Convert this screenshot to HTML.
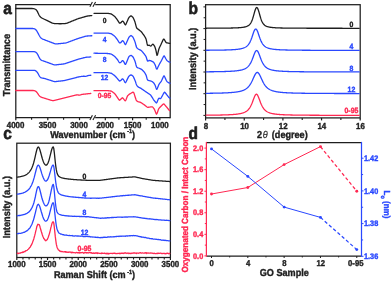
<!DOCTYPE html>
<html><head><meta charset="utf-8"><style>
html,body{margin:0;padding:0;background:#fff;width:392px;height:282px;overflow:hidden;}
svg{display:block;filter:blur(0.15px);}
text{font-family:"Liberation Sans",sans-serif;text-rendering:geometricPrecision;}
</style></head><body>
<svg width="392" height="282" viewBox="0 0 392 282">
<rect width="392" height="282" fill="#fff"/>
<line x1="15.8" y1="3.9" x2="15.8" y2="118.3" stroke="#1e1e1e" stroke-width="1.25" />
<line x1="170.2" y1="3.9" x2="170.2" y2="118.3" stroke="#1e1e1e" stroke-width="1.25" />
<line x1="15.8" y1="4.5" x2="90.8" y2="4.5" stroke="#1e1e1e" stroke-width="1.25" />
<line x1="95.2" y1="4.5" x2="170.2" y2="4.5" stroke="#1e1e1e" stroke-width="1.25" />
<line x1="15.8" y1="117.7" x2="90.8" y2="117.7" stroke="#1e1e1e" stroke-width="1.25" />
<line x1="95.2" y1="117.7" x2="170.2" y2="117.7" stroke="#1e1e1e" stroke-width="1.25" />
<line x1="89.9" y1="6.8" x2="92.4" y2="2.0" stroke="#1e1e1e" stroke-width="1.1" />
<line x1="92.9" y1="6.8" x2="95.6" y2="2.0" stroke="#1e1e1e" stroke-width="1.1" />
<line x1="89.9" y1="120.0" x2="92.4" y2="115.2" stroke="#1e1e1e" stroke-width="1.1" />
<line x1="92.9" y1="120.0" x2="95.6" y2="115.2" stroke="#1e1e1e" stroke-width="1.1" />
<line x1="15.8" y1="117.7" x2="15.8" y2="120.2" stroke="#1e1e1e" stroke-width="1.2" />
<line x1="47.8" y1="117.7" x2="47.8" y2="120.2" stroke="#1e1e1e" stroke-width="1.2" />
<line x1="79.5" y1="117.7" x2="79.5" y2="120.2" stroke="#1e1e1e" stroke-width="1.2" />
<line x1="105.3" y1="117.7" x2="105.3" y2="120.2" stroke="#1e1e1e" stroke-width="1.2" />
<line x1="132.6" y1="117.7" x2="132.6" y2="120.2" stroke="#1e1e1e" stroke-width="1.2" />
<line x1="159.8" y1="117.7" x2="159.8" y2="120.2" stroke="#1e1e1e" stroke-width="1.2" />
<line x1="31.6" y1="117.7" x2="31.6" y2="119.7" stroke="#1e1e1e" stroke-width="1.1" />
<line x1="63.6" y1="117.7" x2="63.6" y2="119.7" stroke="#1e1e1e" stroke-width="1.1" />
<line x1="118.9" y1="117.7" x2="118.9" y2="119.7" stroke="#1e1e1e" stroke-width="1.1" />
<line x1="146.2" y1="117.7" x2="146.2" y2="119.7" stroke="#1e1e1e" stroke-width="1.1" />
<text transform="translate(15.6,128.0) scale(1,1.1)" font-size="7.9" fill="#1e1e1e" stroke="#1e1e1e" stroke-width="0.36" text-anchor="middle" font-family="Liberation Sans, sans-serif" font-weight="bold" >4000</text>
<text transform="translate(47.5,128.0) scale(1,1.1)" font-size="7.9" fill="#1e1e1e" stroke="#1e1e1e" stroke-width="0.36" text-anchor="middle" font-family="Liberation Sans, sans-serif" font-weight="bold" >3500</text>
<text transform="translate(79.0,128.0) scale(1,1.1)" font-size="7.9" fill="#1e1e1e" stroke="#1e1e1e" stroke-width="0.36" text-anchor="middle" font-family="Liberation Sans, sans-serif" font-weight="bold" >3000</text>
<text transform="translate(105.2,128.0) scale(1,1.1)" font-size="7.9" fill="#1e1e1e" stroke="#1e1e1e" stroke-width="0.36" text-anchor="middle" font-family="Liberation Sans, sans-serif" font-weight="bold" >2000</text>
<text transform="translate(132.6,128.0) scale(1,1.1)" font-size="7.9" fill="#1e1e1e" stroke="#1e1e1e" stroke-width="0.36" text-anchor="middle" font-family="Liberation Sans, sans-serif" font-weight="bold" >1500</text>
<text transform="translate(159.9,128.0) scale(1,1.1)" font-size="7.9" fill="#1e1e1e" stroke="#1e1e1e" stroke-width="0.36" text-anchor="middle" font-family="Liberation Sans, sans-serif" font-weight="bold" >1000</text>
<text transform="translate(3.2,14.3) scale(1,1.1)" font-size="15.5" fill="#1e1e1e" stroke="#1e1e1e" stroke-width="0.55" text-anchor="start" font-family="Liberation Sans, sans-serif" font-weight="bold" >a</text>
<text transform="translate(50.2,137.8) scale(1,1.1)" font-size="9.1" fill="#1e1e1e" stroke="#1e1e1e" stroke-width="0.36" font-family="Liberation Sans, sans-serif" font-weight="bold">Wavenumber (cm<tspan font-size="5.5" dy="-4.2"> -1</tspan><tspan dy="4.2">)</tspan></text>
<text transform="translate(9.6,96.2) rotate(-90) scale(1,1.1)" font-size="9.2" fill="#1e1e1e" stroke="#1e1e1e" stroke-width="0.36" font-family="Liberation Sans, sans-serif" font-weight="bold">Transmittance</text>
<path d="M15.80,8.50 L16.30,8.50 L16.80,8.50 L17.30,8.50 L17.80,8.50 L18.30,8.50 L18.80,8.50 L19.30,8.50 L19.80,8.50 L20.30,8.50 L20.80,8.50 L21.30,8.50 L21.80,8.50 L22.30,8.50 L22.80,8.50 L23.30,8.50 L23.80,8.50 L24.30,8.50 L24.80,8.50 L25.30,8.50 L25.80,8.50 L26.30,8.50 L26.80,8.50 L27.30,8.50 L27.80,8.50 L28.30,8.50 L28.80,8.50 L29.30,8.50 L29.80,8.50 L30.30,8.50 L30.80,8.50 L31.30,8.50 L31.80,8.51 L32.30,8.52 L32.80,8.55 L33.30,8.60 L33.80,8.70 L34.30,8.83 L34.80,9.01 L35.30,9.23 L35.80,9.52 L36.30,9.95 L36.80,10.57 L37.30,11.40 L37.80,12.41 L38.30,13.51 L38.80,14.58 L39.30,15.50 L39.80,16.25 L40.30,16.81 L40.80,17.25 L41.30,17.61 L41.80,17.92 L42.30,18.21 L42.80,18.47 L43.30,18.73 L43.80,18.98 L44.30,19.22 L44.80,19.47 L45.30,19.71 L45.80,19.96 L46.30,20.20 L46.80,20.44 L47.30,20.68 L47.80,20.92 L48.30,21.16 L48.80,21.40 L49.30,21.64 L49.80,21.88 L50.30,22.12 L50.80,22.35 L51.30,22.59 L51.80,22.82 L52.30,23.03 L52.80,23.21 L53.30,23.35 L53.80,23.45 L54.30,23.52 L54.80,23.56 L55.30,23.59 L55.80,23.61 L56.30,23.64 L56.80,23.66 L57.30,23.68 L57.80,23.70 L58.30,23.72 L58.80,23.74 L59.30,23.76 L59.80,23.76 L60.30,23.76 L60.80,23.75 L61.30,23.73 L61.80,23.71 L62.30,23.69 L62.80,23.66 L63.30,23.64 L63.80,23.62 L64.30,23.59 L64.80,23.56 L65.30,23.51 L65.80,23.44 L66.30,23.33 L66.80,23.19 L67.30,23.03 L67.80,22.84 L68.30,22.64 L68.80,22.44 L69.30,22.23 L69.80,22.03 L70.30,21.82 L70.80,21.62 L71.30,21.42 L71.80,21.21 L72.30,21.01 L72.80,20.80 L73.30,20.60 L73.80,20.39 L74.30,20.19 L74.80,19.99 L75.30,19.78 L75.80,19.58 L76.30,19.38 L76.80,19.18 L77.30,18.99 L77.80,18.81 L78.30,18.65 L78.80,18.49 L79.30,18.34 L79.80,18.19 L80.30,18.05 L80.80,17.91 L81.30,17.76 L81.80,17.62 L82.30,17.47 L82.80,17.33 L83.30,17.18 L83.80,17.04 L84.30,16.89 L84.80,16.75 L85.30,16.61 L85.80,16.47 L86.30,16.33 L86.80,16.20 L87.30,16.09 L87.80,15.99 L88.30,15.92 L88.80,15.85 L89.30,15.79 L89.80,15.73 L90.30,15.67 L90.80,15.62 L91.30,15.58 L91.80,15.54" fill="none" stroke="#1e1e1e" stroke-width="1.3" stroke-linejoin="round" stroke-linecap="round" />
<path d="M94.00,13.30 L94.50,13.30 L95.00,13.30 L95.50,13.30 L96.00,13.30 L96.50,13.30 L97.00,13.30 L97.50,13.30 L98.00,13.30 L98.50,13.30 L99.00,13.30 L99.50,13.30 L100.00,13.30 L100.50,13.30 L101.00,13.30 L101.50,13.30 L102.00,13.30 L102.50,13.30 L103.00,13.30 L103.50,13.30 L104.00,13.30 L104.50,13.30 L105.00,13.30 L105.50,13.30 L106.00,13.30 L106.50,13.30 L107.00,13.30 L107.50,13.30 L108.00,13.32 L108.50,13.40 L109.00,13.51 L109.50,13.61 L110.00,13.71 L110.50,13.81 L111.00,13.92 L111.50,14.11 L112.00,14.44 L112.50,14.81 L113.00,15.18 L113.50,15.54 L114.00,15.91 L114.50,16.29 L115.00,16.79 L115.50,17.42 L116.00,18.07 L116.50,18.72 L117.00,19.38 L117.50,20.09 L118.00,20.87 L118.50,21.68 L119.00,22.48 L119.50,23.09 L120.00,23.14 L120.50,22.97 L121.00,22.61 L121.50,22.03 L122.00,21.43 L122.50,21.05 L123.00,21.31 L123.50,21.84 L124.00,22.62 L124.50,23.60 L125.00,24.54 L125.50,24.85 L126.00,24.05 L126.50,22.94 L127.00,21.80 L127.50,20.65 L128.00,19.49 L128.50,18.35 L129.00,17.44 L129.50,16.92 L130.00,16.51 L130.50,16.11 L131.00,15.88 L131.50,16.11 L132.00,16.51 L132.50,16.92 L133.00,17.45 L133.50,18.39 L134.00,19.59 L134.50,20.80 L135.00,22.09 L135.50,23.81 L136.00,25.87 L136.50,27.61 L137.00,28.36 L137.50,28.74 L138.00,29.11 L138.50,29.48 L139.00,29.88 L139.50,30.28 L140.00,30.68 L140.50,31.08 L141.00,31.49 L141.50,31.99 L142.00,32.64 L142.50,33.34 L143.00,34.04 L143.50,34.74 L144.00,35.44 L144.50,36.20 L145.00,37.03 L145.50,37.90 L146.00,38.92 L146.50,40.84 L147.00,43.42 L147.50,45.21 L148.00,45.50 L148.50,45.35 L149.00,45.22 L149.50,45.32 L150.00,45.70 L150.50,46.04 L151.00,45.93 L151.50,45.43 L152.00,44.88 L152.50,44.37 L153.00,44.22 L153.50,44.71 L154.00,45.37 L154.50,46.11 L155.00,47.24 L155.50,48.73 L156.00,50.66 L156.50,53.23 L157.00,55.26 L157.50,54.71 L158.00,52.65 L158.50,50.49 L159.00,48.69 L159.50,47.51 L160.00,46.50 L160.50,45.49 L161.00,44.44 L161.50,43.34 L162.00,42.24 L162.50,41.14 L163.00,40.04 L163.50,39.12 L164.00,39.12 L164.50,39.90 L165.00,40.78 L165.50,41.65 L166.00,42.40 L166.50,42.76 L167.00,42.88 L167.50,42.98 L168.00,43.08 L168.50,43.18 L169.00,43.26 L169.50,43.30 L170.00,43.30" fill="none" stroke="#1e1e1e" stroke-width="1.3" stroke-linejoin="round" stroke-linecap="round" />
<path d="M15.80,28.50 L16.30,28.50 L16.80,28.50 L17.30,28.50 L17.80,28.50 L18.30,28.50 L18.80,28.50 L19.30,28.50 L19.80,28.50 L20.30,28.50 L20.80,28.50 L21.30,28.50 L21.80,28.50 L22.30,28.50 L22.80,28.50 L23.30,28.50 L23.80,28.50 L24.30,28.50 L24.80,28.50 L25.30,28.50 L25.80,28.50 L26.30,28.50 L26.80,28.50 L27.30,28.50 L27.80,28.50 L28.30,28.50 L28.80,28.50 L29.30,28.50 L29.80,28.50 L30.30,28.50 L30.80,28.50 L31.30,28.50 L31.80,28.50 L32.30,28.50 L32.80,28.52 L33.30,28.55 L33.80,28.62 L34.30,28.76 L34.80,28.97 L35.30,29.29 L35.80,29.72 L36.30,30.28 L36.80,30.99 L37.30,31.82 L37.80,32.74 L38.30,33.68 L38.80,34.61 L39.30,35.49 L39.80,36.32 L40.30,37.05 L40.80,37.68 L41.30,38.17 L41.80,38.55 L42.30,38.83 L42.80,39.07 L43.30,39.29 L43.80,39.50 L44.30,39.71 L44.80,39.91 L45.30,40.11 L45.80,40.30 L46.30,40.49 L46.80,40.69 L47.30,40.88 L47.80,41.07 L48.30,41.26 L48.80,41.45 L49.30,41.64 L49.80,41.83 L50.30,42.02 L50.80,42.21 L51.30,42.40 L51.80,42.59 L52.30,42.78 L52.80,42.97 L53.30,43.16 L53.80,43.34 L54.30,43.52 L54.80,43.67 L55.30,43.78 L55.80,43.85 L56.30,43.87 L56.80,43.86 L57.30,43.82 L57.80,43.78 L58.30,43.73 L58.80,43.69 L59.30,43.64 L59.80,43.59 L60.30,43.54 L60.80,43.50 L61.30,43.45 L61.80,43.40 L62.30,43.35 L62.80,43.30 L63.30,43.26 L63.80,43.21 L64.30,43.16 L64.80,43.10 L65.30,43.03 L65.80,42.93 L66.30,42.81 L66.80,42.67 L67.30,42.50 L67.80,42.32 L68.30,42.14 L68.80,41.95 L69.30,41.76 L69.80,41.58 L70.30,41.39 L70.80,41.20 L71.30,41.01 L71.80,40.82 L72.30,40.64 L72.80,40.45 L73.30,40.26 L73.80,40.08 L74.30,39.89 L74.80,39.70 L75.30,39.51 L75.80,39.33 L76.30,39.14 L76.80,38.95 L77.30,38.77 L77.80,38.60 L78.30,38.43 L78.80,38.27 L79.30,38.11 L79.80,37.96 L80.30,37.81 L80.80,37.66 L81.30,37.51 L81.80,37.36 L82.30,37.21 L82.80,37.06 L83.30,36.91 L83.80,36.76 L84.30,36.61 L84.80,36.47 L85.30,36.34 L85.80,36.23 L86.30,36.14 L86.80,36.07 L87.30,36.02 L87.80,35.98 L88.30,35.94 L88.80,35.91 L89.30,35.87 L89.80,35.84 L90.30,35.81 L90.80,35.77 L91.30,35.75 L91.80,35.73" fill="none" stroke="#2a48ff" stroke-width="1.3" stroke-linejoin="round" stroke-linecap="round" />
<path d="M94.00,33.10 L94.50,33.10 L95.00,33.10 L95.50,33.10 L96.00,33.10 L96.50,33.10 L97.00,33.10 L97.50,33.10 L98.00,33.10 L98.50,33.10 L99.00,33.10 L99.50,33.10 L100.00,33.10 L100.50,33.10 L101.00,33.10 L101.50,33.10 L102.00,33.10 L102.50,33.10 L103.00,33.10 L103.50,33.10 L104.00,33.10 L104.50,33.10 L105.00,33.10 L105.50,33.10 L106.00,33.10 L106.50,33.10 L107.00,33.10 L107.50,33.10 L108.00,33.12 L108.50,33.20 L109.00,33.31 L109.50,33.41 L110.00,33.51 L110.50,33.61 L111.00,33.72 L111.50,33.91 L112.00,34.24 L112.50,34.61 L113.00,34.98 L113.50,35.34 L114.00,35.71 L114.50,36.09 L115.00,36.59 L115.50,37.22 L116.00,37.87 L116.50,38.52 L117.00,39.18 L117.50,39.89 L118.00,40.67 L118.50,41.48 L119.00,42.28 L119.50,42.89 L120.00,42.94 L120.50,42.77 L121.00,42.38 L121.50,41.75 L122.00,41.09 L122.50,40.66 L123.00,40.91 L123.50,41.45 L124.00,42.26 L124.50,43.29 L125.00,44.29 L125.50,44.64 L126.00,43.85 L126.50,42.74 L127.00,41.60 L127.50,40.45 L128.00,39.29 L128.50,38.15 L129.00,37.22 L129.50,36.66 L130.00,36.20 L130.50,35.76 L131.00,35.50 L131.50,35.76 L132.00,36.20 L132.50,36.66 L133.00,37.23 L133.50,38.19 L134.00,39.39 L134.50,40.60 L135.00,41.89 L135.50,43.56 L136.00,45.55 L136.50,47.23 L137.00,47.98 L137.50,48.39 L138.00,48.78 L138.50,49.13 L139.00,49.40 L139.50,49.65 L140.00,49.90 L140.50,50.15 L141.00,50.41 L141.50,50.77 L142.00,51.32 L142.50,51.92 L143.00,52.52 L143.50,53.12 L144.00,53.72 L144.50,54.35 L145.00,55.03 L145.50,55.73 L146.00,56.54 L146.50,57.96 L147.00,59.84 L147.50,61.08 L148.00,61.11 L148.50,60.81 L149.00,60.51 L149.50,60.41 L150.00,60.53 L150.50,60.70 L151.00,60.88 L151.50,61.10 L152.00,61.35 L152.50,61.60 L153.00,61.85 L153.50,62.23 L154.00,62.94 L154.50,63.77 L155.00,64.64 L155.50,65.86 L156.00,67.50 L156.50,68.96 L157.00,69.12 L157.50,68.15 L158.00,67.06 L158.50,65.98 L159.00,64.96 L159.50,64.05 L160.00,63.18 L160.50,62.30 L161.00,61.42 L161.50,60.48 L162.00,59.47 L162.50,58.46 L163.00,57.44 L163.50,56.43 L164.00,55.83 L164.50,56.32 L165.00,57.21 L165.50,58.12 L166.00,59.03 L166.50,59.89 L167.00,60.50 L167.50,60.90 L168.00,61.27 L168.50,61.65 L169.00,61.97 L169.50,62.09 L170.00,62.10" fill="none" stroke="#2a48ff" stroke-width="1.3" stroke-linejoin="round" stroke-linecap="round" />
<path d="M15.80,51.60 L16.30,51.60 L16.80,51.60 L17.30,51.60 L17.80,51.60 L18.30,51.60 L18.80,51.60 L19.30,51.60 L19.80,51.60 L20.30,51.60 L20.80,51.60 L21.30,51.60 L21.80,51.60 L22.30,51.60 L22.80,51.60 L23.30,51.60 L23.80,51.60 L24.30,51.60 L24.80,51.60 L25.30,51.60 L25.80,51.60 L26.30,51.60 L26.80,51.60 L27.30,51.60 L27.80,51.60 L28.30,51.60 L28.80,51.60 L29.30,51.60 L29.80,51.60 L30.30,51.60 L30.80,51.60 L31.30,51.60 L31.80,51.60 L32.30,51.60 L32.80,51.60 L33.30,51.61 L33.80,51.63 L34.30,51.68 L34.80,51.78 L35.30,51.95 L35.80,52.23 L36.30,52.62 L36.80,53.14 L37.30,53.83 L37.80,54.68 L38.30,55.66 L38.80,56.69 L39.30,57.69 L39.80,58.56 L40.30,59.26 L40.80,59.76 L41.30,60.11 L41.80,60.36 L42.30,60.56 L42.80,60.74 L43.30,60.91 L43.80,61.09 L44.30,61.27 L44.80,61.44 L45.30,61.62 L45.80,61.81 L46.30,61.99 L46.80,62.17 L47.30,62.36 L47.80,62.54 L48.30,62.72 L48.80,62.91 L49.30,63.09 L49.80,63.27 L50.30,63.46 L50.80,63.64 L51.30,63.82 L51.80,64.01 L52.30,64.19 L52.80,64.37 L53.30,64.53 L53.80,64.68 L54.30,64.78 L54.80,64.84 L55.30,64.85 L55.80,64.83 L56.30,64.79 L56.80,64.74 L57.30,64.69 L57.80,64.63 L58.30,64.57 L58.80,64.52 L59.30,64.46 L59.80,64.41 L60.30,64.35 L60.80,64.29 L61.30,64.24 L61.80,64.18 L62.30,64.12 L62.80,64.06 L63.30,63.99 L63.80,63.91 L64.30,63.81 L64.80,63.69 L65.30,63.55 L65.80,63.39 L66.30,63.23 L66.80,63.07 L67.30,62.90 L67.80,62.73 L68.30,62.57 L68.80,62.40 L69.30,62.23 L69.80,62.07 L70.30,61.90 L70.80,61.73 L71.30,61.57 L71.80,61.40 L72.30,61.23 L72.80,61.07 L73.30,60.90 L73.80,60.73 L74.30,60.57 L74.80,60.40 L75.30,60.23 L75.80,60.07 L76.30,59.90 L76.80,59.73 L77.30,59.57 L77.80,59.40 L78.30,59.24 L78.80,59.09 L79.30,58.94 L79.80,58.80 L80.30,58.66 L80.80,58.53 L81.30,58.40 L81.80,58.27 L82.30,58.14 L82.80,58.01 L83.30,57.88 L83.80,57.75 L84.30,57.62 L84.80,57.51 L85.30,57.41 L85.80,57.33 L86.30,57.27 L86.80,57.22 L87.30,57.18 L87.80,57.14 L88.30,57.10 L88.80,57.07 L89.30,57.03 L89.80,57.00 L90.30,56.97 L90.80,56.95" fill="none" stroke="#2a48ff" stroke-width="1.3" stroke-linejoin="round" stroke-linecap="round" />
<path d="M94.00,53.20 L94.50,53.21 L95.00,53.22 L95.50,53.23 L96.00,53.24 L96.50,53.25 L97.00,53.26 L97.50,53.27 L98.00,53.29 L98.50,53.30 L99.00,53.31 L99.50,53.32 L100.00,53.33 L100.50,53.34 L101.00,53.35 L101.50,53.36 L102.00,53.37 L102.50,53.38 L103.00,53.39 L103.50,53.40 L104.00,53.41 L104.50,53.43 L105.00,53.44 L105.50,53.45 L106.00,53.46 L106.50,53.47 L107.00,53.48 L107.50,53.49 L108.00,53.52 L108.50,53.59 L109.00,53.68 L109.50,53.76 L110.00,53.85 L110.50,53.94 L111.00,54.04 L111.50,54.21 L112.00,54.52 L112.50,54.88 L113.00,55.23 L113.50,55.58 L114.00,55.94 L114.50,56.30 L115.00,56.75 L115.50,57.31 L116.00,57.88 L116.50,58.46 L117.00,59.04 L117.50,59.70 L118.00,60.47 L118.50,61.28 L119.00,62.08 L119.50,62.69 L120.00,62.74 L120.50,62.57 L121.00,62.20 L121.50,61.59 L122.00,60.96 L122.50,60.56 L123.00,60.81 L123.50,61.35 L124.00,62.14 L124.50,63.15 L125.00,64.12 L125.50,64.43 L126.00,63.61 L126.50,62.45 L127.00,61.25 L127.50,60.00 L128.00,58.75 L128.50,57.53 L129.00,56.59 L129.50,56.13 L130.00,55.82 L130.50,55.51 L131.00,55.36 L131.50,55.61 L132.00,56.01 L132.50,56.42 L133.00,56.93 L133.50,57.81 L134.00,58.91 L134.50,60.03 L135.00,61.24 L135.50,62.92 L136.00,64.97 L136.50,66.68 L137.00,67.32 L137.50,67.57 L138.00,67.81 L138.50,68.03 L139.00,68.24 L139.50,68.44 L140.00,68.64 L140.50,68.84 L141.00,69.05 L141.50,69.35 L142.00,69.80 L142.50,70.30 L143.00,70.80 L143.50,71.30 L144.00,71.81 L144.50,72.43 L145.00,73.23 L145.50,74.10 L146.00,75.06 L146.50,76.55 L147.00,78.45 L147.50,79.84 L148.00,80.28 L148.50,80.45 L149.00,80.60 L149.50,80.73 L150.00,80.82 L150.50,80.90 L151.00,81.02 L151.50,81.26 L152.00,81.56 L152.50,81.88 L153.00,82.19 L153.50,82.62 L154.00,83.34 L154.50,84.17 L155.00,85.04 L155.50,86.26 L156.00,87.90 L156.50,89.34 L157.00,89.34 L157.50,88.12 L158.00,86.75 L158.50,85.41 L159.00,84.29 L159.50,83.55 L160.00,82.93 L160.50,82.30 L161.00,81.65 L161.50,80.81 L162.00,79.74 L162.50,78.63 L163.00,77.52 L163.50,76.43 L164.00,75.80 L164.50,76.43 L165.00,77.52 L165.50,78.63 L166.00,79.74 L166.50,80.79 L167.00,81.49 L167.50,81.90 L168.00,82.28 L168.50,82.65 L169.00,82.98 L169.50,83.14 L170.00,83.19" fill="none" stroke="#2a48ff" stroke-width="1.3" stroke-linejoin="round" stroke-linecap="round" />
<path d="M15.80,70.30 L16.30,70.30 L16.80,70.30 L17.30,70.30 L17.80,70.30 L18.30,70.30 L18.80,70.30 L19.30,70.30 L19.80,70.30 L20.30,70.30 L20.80,70.30 L21.30,70.30 L21.80,70.30 L22.30,70.30 L22.80,70.30 L23.30,70.30 L23.80,70.30 L24.30,70.30 L24.80,70.30 L25.30,70.30 L25.80,70.30 L26.30,70.30 L26.80,70.30 L27.30,70.30 L27.80,70.30 L28.30,70.30 L28.80,70.30 L29.30,70.30 L29.80,70.30 L30.30,70.30 L30.80,70.30 L31.30,70.30 L31.80,70.30 L32.30,70.30 L32.80,70.30 L33.30,70.31 L33.80,70.33 L34.30,70.38 L34.80,70.48 L35.30,70.65 L35.80,70.92 L36.30,71.29 L36.80,71.79 L37.30,72.42 L37.80,73.18 L38.30,74.05 L38.80,74.96 L39.30,75.83 L39.80,76.58 L40.30,77.16 L40.80,77.55 L41.30,77.81 L41.80,77.96 L42.30,78.08 L42.80,78.17 L43.30,78.26 L43.80,78.36 L44.30,78.47 L44.80,78.59 L45.30,78.72 L45.80,78.87 L46.30,79.03 L46.80,79.19 L47.30,79.35 L47.80,79.51 L48.30,79.68 L48.80,79.84 L49.30,80.00 L49.80,80.17 L50.30,80.33 L50.80,80.49 L51.30,80.66 L51.80,80.82 L52.30,80.98 L52.80,81.14 L53.30,81.28 L53.80,81.41 L54.30,81.50 L54.80,81.55 L55.30,81.56 L55.80,81.53 L56.30,81.49 L56.80,81.44 L57.30,81.39 L57.80,81.33 L58.30,81.27 L58.80,81.22 L59.30,81.16 L59.80,81.11 L60.30,81.05 L60.80,80.99 L61.30,80.94 L61.80,80.88 L62.30,80.82 L62.80,80.76 L63.30,80.70 L63.80,80.63 L64.30,80.54 L64.80,80.44 L65.30,80.33 L65.80,80.21 L66.30,80.08 L66.80,79.95 L67.30,79.82 L67.80,79.70 L68.30,79.57 L68.80,79.44 L69.30,79.31 L69.80,79.18 L70.30,79.05 L70.80,78.92 L71.30,78.79 L71.80,78.66 L72.30,78.53 L72.80,78.40 L73.30,78.27 L73.80,78.14 L74.30,78.01 L74.80,77.89 L75.30,77.76 L75.80,77.63 L76.30,77.50 L76.80,77.37 L77.30,77.24 L77.80,77.12 L78.30,77.00 L78.80,76.89 L79.30,76.79 L79.80,76.70 L80.30,76.62 L80.80,76.55 L81.30,76.48 L81.80,76.41 L82.30,76.34 L82.80,76.29 L83.30,76.25 L83.80,76.24 L84.30,76.26 L84.80,76.30 L85.30,76.33 L85.80,76.31 L86.30,76.23 L86.80,76.09 L87.30,75.91 L87.80,75.74 L88.30,75.59 L88.80,75.48 L89.30,75.40 L89.80,75.34 L90.30,75.30 L90.80,75.26" fill="none" stroke="#2a48ff" stroke-width="1.3" stroke-linejoin="round" stroke-linecap="round" />
<path d="M94.00,72.70 L94.50,72.70 L95.00,72.70 L95.50,72.70 L96.00,72.70 L96.50,72.70 L97.00,72.70 L97.50,72.70 L98.00,72.70 L98.50,72.70 L99.00,72.70 L99.50,72.70 L100.00,72.70 L100.50,72.70 L101.00,72.70 L101.50,72.70 L102.00,72.70 L102.50,72.70 L103.00,72.70 L103.50,72.70 L104.00,72.70 L104.50,72.70 L105.00,72.70 L105.50,72.70 L106.00,72.70 L106.50,72.70 L107.00,72.70 L107.50,72.70 L108.00,72.72 L108.50,72.79 L109.00,72.88 L109.50,72.96 L110.00,73.05 L110.50,73.14 L111.00,73.24 L111.50,73.41 L112.00,73.72 L112.50,74.08 L113.00,74.43 L113.50,74.78 L114.00,75.14 L114.50,75.50 L115.00,75.94 L115.50,76.48 L116.00,77.04 L116.50,77.60 L117.00,78.16 L117.50,78.73 L118.00,79.34 L118.50,79.96 L119.00,80.57 L119.50,81.00 L120.00,80.92 L120.50,80.65 L121.00,80.25 L121.50,79.72 L122.00,79.17 L122.50,78.85 L123.00,79.15 L123.50,79.72 L124.00,80.52 L124.50,81.50 L125.00,82.44 L125.50,82.76 L126.00,82.00 L126.50,80.94 L127.00,79.90 L127.50,78.90 L128.00,77.90 L128.50,76.92 L129.00,76.15 L129.50,75.73 L130.00,75.42 L130.50,75.11 L131.00,74.94 L131.50,75.11 L132.00,75.42 L132.50,75.73 L133.00,76.16 L133.50,77.02 L134.00,78.11 L134.50,79.23 L135.00,80.40 L135.50,81.79 L136.00,83.38 L136.50,84.78 L137.00,85.61 L137.50,86.23 L138.00,86.82 L138.50,87.21 L139.00,87.45 L139.50,87.67 L140.00,87.89 L140.50,88.12 L141.00,88.41 L141.50,88.75 L142.00,89.10 L142.50,89.45 L143.00,89.80 L143.50,90.14 L144.00,90.49 L144.50,90.84 L145.00,91.18 L145.50,91.53 L146.00,91.88 L146.50,92.22 L147.00,92.56 L147.50,92.89 L148.00,93.21 L148.50,93.54 L149.00,93.86 L149.50,94.19 L150.00,94.51 L150.50,94.91 L151.00,95.56 L151.50,96.35 L152.00,97.16 L152.50,97.96 L153.00,98.77 L153.50,99.56 L154.00,100.25 L154.50,100.87 L155.00,101.47 L155.50,102.07 L156.00,102.67 L156.50,102.98 L157.00,102.32 L157.50,101.09 L158.00,99.80 L158.50,98.65 L159.00,98.21 L159.50,98.38 L160.00,98.61 L160.50,98.67 L161.00,98.14 L161.50,97.26 L162.00,96.35 L162.50,95.44 L163.00,94.53 L163.50,93.62 L164.00,92.72 L164.50,92.15 L165.00,92.46 L165.50,93.09 L166.00,93.74 L166.50,94.38 L167.00,95.03 L167.50,95.67 L168.00,96.32 L168.50,96.97 L169.00,97.59 L169.50,98.01 L170.00,98.17" fill="none" stroke="#2a48ff" stroke-width="1.3" stroke-linejoin="round" stroke-linecap="round" />
<path d="M15.80,90.50 L16.30,90.50 L16.80,90.50 L17.30,90.50 L17.80,90.50 L18.30,90.50 L18.80,90.50 L19.30,90.50 L19.80,90.50 L20.30,90.50 L20.80,90.50 L21.30,90.50 L21.80,90.50 L22.30,90.50 L22.80,90.50 L23.30,90.50 L23.80,90.50 L24.30,90.50 L24.80,90.50 L25.30,90.50 L25.80,90.50 L26.30,90.50 L26.80,90.50 L27.30,90.50 L27.80,90.50 L28.30,90.50 L28.80,90.50 L29.30,90.50 L29.80,90.50 L30.30,90.50 L30.80,90.50 L31.30,90.50 L31.80,90.50 L32.30,90.50 L32.80,90.50 L33.30,90.52 L33.80,90.55 L34.30,90.63 L34.80,90.78 L35.30,91.02 L35.80,91.35 L36.30,91.78 L36.80,92.31 L37.30,92.93 L37.80,93.62 L38.30,94.34 L38.80,95.04 L39.30,95.68 L39.80,96.21 L40.30,96.62 L40.80,96.93 L41.30,97.16 L41.80,97.34 L42.30,97.51 L42.80,97.68 L43.30,97.84 L43.80,98.00 L44.30,98.16 L44.80,98.32 L45.30,98.48 L45.80,98.63 L46.30,98.79 L46.80,98.94 L47.30,99.09 L47.80,99.25 L48.30,99.40 L48.80,99.55 L49.30,99.70 L49.80,99.85 L50.30,100.01 L50.80,100.16 L51.30,100.30 L51.80,100.43 L52.30,100.52 L52.80,100.57 L53.30,100.57 L53.80,100.51 L54.30,100.42 L54.80,100.31 L55.30,100.19 L55.80,100.06 L56.30,99.93 L56.80,99.81 L57.30,99.68 L57.80,99.55 L58.30,99.42 L58.80,99.29 L59.30,99.17 L59.80,99.04 L60.30,98.91 L60.80,98.78 L61.30,98.66 L61.80,98.53 L62.30,98.40 L62.80,98.28 L63.30,98.15 L63.80,98.03 L64.30,97.91 L64.80,97.78 L65.30,97.66 L65.80,97.54 L66.30,97.41 L66.80,97.29 L67.30,97.17 L67.80,97.04 L68.30,96.92 L68.80,96.80 L69.30,96.67 L69.80,96.55 L70.30,96.43 L70.80,96.30 L71.30,96.18 L71.80,96.06 L72.30,95.93 L72.80,95.81 L73.30,95.69 L73.80,95.56 L74.30,95.44 L74.80,95.32 L75.30,95.20 L75.80,95.08 L76.30,94.99 L76.80,94.93 L77.30,94.91 L77.80,94.93 L78.30,94.99 L78.80,95.05 L79.30,95.07 L79.80,95.03 L80.30,94.92 L80.80,94.76 L81.30,94.61 L81.80,94.48 L82.30,94.39 L82.80,94.31 L83.30,94.25 L83.80,94.20 L84.30,94.14 L84.80,94.09 L85.30,94.04 L85.80,93.98 L86.30,93.93 L86.80,93.87 L87.30,93.82 L87.80,93.77 L88.30,93.71 L88.80,93.66 L89.30,93.61 L89.80,93.56 L90.30,93.51 L90.80,93.47" fill="none" stroke="#ff2852" stroke-width="1.3" stroke-linejoin="round" stroke-linecap="round" />
<path d="M94.00,90.70 L94.50,90.70 L95.00,90.70 L95.50,90.70 L96.00,90.70 L96.50,90.70 L97.00,90.70 L97.50,90.70 L98.00,90.70 L98.50,90.70 L99.00,90.70 L99.50,90.70 L100.00,90.70 L100.50,90.70 L101.00,90.70 L101.50,90.70 L102.00,90.70 L102.50,90.70 L103.00,90.70 L103.50,90.70 L104.00,90.70 L104.50,90.70 L105.00,90.70 L105.50,90.70 L106.00,90.70 L106.50,90.70 L107.00,90.70 L107.50,90.70 L108.00,90.71 L108.50,90.76 L109.00,90.82 L109.50,90.88 L110.00,90.94 L110.50,90.99 L111.00,91.06 L111.50,91.23 L112.00,91.56 L112.50,91.94 L113.00,92.32 L113.50,92.71 L114.00,93.09 L114.50,93.49 L115.00,94.02 L115.50,94.72 L116.00,95.45 L116.50,96.18 L117.00,96.91 L117.50,97.64 L118.00,98.36 L118.50,99.07 L119.00,99.78 L119.50,100.23 L120.00,99.99 L120.50,99.50 L121.00,99.00 L121.50,98.50 L122.00,98.01 L122.50,97.76 L123.00,98.16 L123.50,98.81 L124.00,99.47 L124.50,100.12 L125.00,100.72 L125.50,100.73 L126.00,99.72 L126.50,98.42 L127.00,97.12 L127.50,96.00 L128.00,95.38 L128.50,94.95 L129.00,94.53 L129.50,94.13 L130.00,93.82 L130.50,93.53 L131.00,93.25 L131.50,92.97 L132.00,92.68 L132.50,92.42 L133.00,92.23 L133.50,92.31 L134.00,93.32 L134.50,94.87 L135.00,96.45 L135.50,97.97 L136.00,99.43 L136.50,100.63 L137.00,101.13 L137.50,101.37 L138.00,101.60 L138.50,101.78 L139.00,101.92 L139.50,102.06 L140.00,102.20 L140.50,102.36 L141.00,102.61 L141.50,102.94 L142.00,103.28 L142.50,103.62 L143.00,103.95 L143.50,104.29 L144.00,104.63 L144.50,104.99 L145.00,105.38 L145.50,105.79 L146.00,106.19 L146.50,106.59 L147.00,106.99 L147.50,107.29 L148.00,107.33 L148.50,107.26 L149.00,107.19 L149.50,107.12 L150.00,107.05 L150.50,106.98 L151.00,106.91 L151.50,106.84 L152.00,106.78 L152.50,106.86 L153.00,107.36 L153.50,108.02 L154.00,108.69 L154.50,109.56 L155.00,110.76 L155.50,112.05 L156.00,113.33 L156.50,114.20 L157.00,113.62 L157.50,112.20 L158.00,110.70 L158.50,109.29 L159.00,108.35 L159.50,107.80 L160.00,107.30 L160.50,106.80 L161.00,106.30 L161.50,105.80 L162.00,105.30 L162.50,104.80 L163.00,104.30 L163.50,103.90 L164.00,104.01 L164.50,104.55 L165.00,105.15 L165.50,105.74 L166.00,106.34 L166.50,106.93 L167.00,107.53 L167.50,108.13 L168.00,108.74 L168.50,109.36 L169.00,109.98 L169.50,110.57" fill="none" stroke="#ff2852" stroke-width="1.3" stroke-linejoin="round" stroke-linecap="round" />
<text transform="translate(104.5,22.8) scale(1,1.1)" font-size="6.7" fill="#1e1e1e" stroke="#1e1e1e" stroke-width="0.36" text-anchor="middle" font-family="Liberation Sans, sans-serif" font-weight="bold" >0</text>
<text transform="translate(104.5,41.7) scale(1,1.1)" font-size="6.7" fill="#2a48ff" stroke="#2a48ff" stroke-width="0.36" text-anchor="middle" font-family="Liberation Sans, sans-serif" font-weight="bold" >4</text>
<text transform="translate(104.5,61.5) scale(1,1.1)" font-size="6.7" fill="#2a48ff" stroke="#2a48ff" stroke-width="0.36" text-anchor="middle" font-family="Liberation Sans, sans-serif" font-weight="bold" >8</text>
<text transform="translate(104.5,79.9) scale(1,1.1)" font-size="6.7" fill="#2a48ff" stroke="#2a48ff" stroke-width="0.36" text-anchor="middle" font-family="Liberation Sans, sans-serif" font-weight="bold" >12</text>
<text transform="translate(104.5,98.0) scale(1,1.1)" font-size="6.7" fill="#ff2852" stroke="#ff2852" stroke-width="0.36" text-anchor="middle" font-family="Liberation Sans, sans-serif" font-weight="bold" >0-95</text>
<rect x="205.6" y="4.7" width="154.6" height="113.2" fill="none" stroke="#1e1e1e" stroke-width="1.25"/>
<line x1="205.6" y1="117.9" x2="205.6" y2="120.4" stroke="#1e1e1e" stroke-width="1.2" />
<line x1="244.25" y1="117.9" x2="244.25" y2="120.4" stroke="#1e1e1e" stroke-width="1.2" />
<line x1="282.9" y1="117.9" x2="282.9" y2="120.4" stroke="#1e1e1e" stroke-width="1.2" />
<line x1="321.54999999999995" y1="117.9" x2="321.54999999999995" y2="120.4" stroke="#1e1e1e" stroke-width="1.2" />
<line x1="360.2" y1="117.9" x2="360.2" y2="120.4" stroke="#1e1e1e" stroke-width="1.2" />
<line x1="224.92499999999998" y1="117.9" x2="224.92499999999998" y2="119.9" stroke="#1e1e1e" stroke-width="1.1" />
<line x1="263.575" y1="117.9" x2="263.575" y2="119.9" stroke="#1e1e1e" stroke-width="1.1" />
<line x1="302.225" y1="117.9" x2="302.225" y2="119.9" stroke="#1e1e1e" stroke-width="1.1" />
<line x1="340.875" y1="117.9" x2="340.875" y2="119.9" stroke="#1e1e1e" stroke-width="1.1" />
<text transform="translate(205.9,128.6) scale(1,1.1)" font-size="7.9" fill="#1e1e1e" stroke="#1e1e1e" stroke-width="0.36" text-anchor="middle" font-family="Liberation Sans, sans-serif" font-weight="bold" >8</text>
<text transform="translate(244.55,128.6) scale(1,1.1)" font-size="7.9" fill="#1e1e1e" stroke="#1e1e1e" stroke-width="0.36" text-anchor="middle" font-family="Liberation Sans, sans-serif" font-weight="bold" >10</text>
<text transform="translate(283.2,128.6) scale(1,1.1)" font-size="7.9" fill="#1e1e1e" stroke="#1e1e1e" stroke-width="0.36" text-anchor="middle" font-family="Liberation Sans, sans-serif" font-weight="bold" >12</text>
<text transform="translate(321.84999999999997,128.6) scale(1,1.1)" font-size="7.9" fill="#1e1e1e" stroke="#1e1e1e" stroke-width="0.36" text-anchor="middle" font-family="Liberation Sans, sans-serif" font-weight="bold" >14</text>
<text transform="translate(360.5,128.6) scale(1,1.1)" font-size="7.9" fill="#1e1e1e" stroke="#1e1e1e" stroke-width="0.36" text-anchor="middle" font-family="Liberation Sans, sans-serif" font-weight="bold" >16</text>
<line x1="205.6" y1="6.9" x2="203.4" y2="6.9" stroke="#1e1e1e" stroke-width="1.0" />
<line x1="205.6" y1="17.75" x2="203.6" y2="17.75" stroke="#1e1e1e" stroke-width="1.0" />
<line x1="205.6" y1="28.6" x2="203.4" y2="28.6" stroke="#1e1e1e" stroke-width="1.0" />
<line x1="205.6" y1="39.449999999999996" x2="203.6" y2="39.449999999999996" stroke="#1e1e1e" stroke-width="1.0" />
<line x1="205.6" y1="50.3" x2="203.4" y2="50.3" stroke="#1e1e1e" stroke-width="1.0" />
<line x1="205.6" y1="61.15" x2="203.6" y2="61.15" stroke="#1e1e1e" stroke-width="1.0" />
<line x1="205.6" y1="72.0" x2="203.4" y2="72.0" stroke="#1e1e1e" stroke-width="1.0" />
<line x1="205.6" y1="82.85000000000001" x2="203.6" y2="82.85000000000001" stroke="#1e1e1e" stroke-width="1.0" />
<line x1="205.6" y1="93.7" x2="203.4" y2="93.7" stroke="#1e1e1e" stroke-width="1.0" />
<line x1="205.6" y1="104.55" x2="203.6" y2="104.55" stroke="#1e1e1e" stroke-width="1.0" />
<line x1="205.6" y1="115.4" x2="203.4" y2="115.4" stroke="#1e1e1e" stroke-width="1.0" />
<text transform="translate(188.5,14.3) scale(1,1.1)" font-size="15.5" fill="#1e1e1e" stroke="#1e1e1e" stroke-width="0.55" text-anchor="start" font-family="Liberation Sans, sans-serif" font-weight="bold" >b</text>
<text transform="translate(257.0,137.9) scale(1,1.1)" font-size="9.1" fill="#1e1e1e" stroke="#1e1e1e" stroke-width="0.36" font-family="Liberation Sans, sans-serif" font-weight="bold">2<tspan dx="0.8" font-style="italic" font-weight="normal" stroke-width="0.15">θ</tspan><tspan dx="4.0">(degree)</tspan></text>
<text transform="translate(195.9,90.0) rotate(-90) scale(1,1.1)" font-size="9.2" fill="#1e1e1e" stroke="#1e1e1e" stroke-width="0.36" font-family="Liberation Sans, sans-serif" font-weight="bold">Intensity (a.u.)</text>
<path d="M206.20,28.23 L206.70,28.23 L207.20,28.22 L207.70,28.22 L208.20,28.22 L208.70,28.22 L209.20,28.22 L209.70,28.22 L210.20,28.21 L210.70,28.21 L211.20,28.21 L211.70,28.21 L212.20,28.21 L212.70,28.20 L213.20,28.20 L213.70,28.20 L214.20,28.20 L214.70,28.20 L215.20,28.19 L215.70,28.19 L216.20,28.19 L216.70,28.18 L217.20,28.18 L217.70,28.18 L218.20,28.18 L218.70,28.17 L219.20,28.17 L219.70,28.17 L220.20,28.16 L220.70,28.16 L221.20,28.15 L221.70,28.15 L222.20,28.15 L222.70,28.14 L223.20,28.14 L223.70,28.13 L224.20,28.13 L224.70,28.12 L225.20,28.11 L225.70,28.11 L226.20,28.10 L226.70,28.10 L227.20,28.09 L227.70,28.08 L228.20,28.07 L228.70,28.06 L229.20,28.06 L229.70,28.05 L230.20,28.04 L230.70,28.03 L231.20,28.02 L231.70,28.00 L232.20,27.99 L232.70,27.98 L233.20,27.97 L233.70,27.95 L234.20,27.94 L234.70,27.92 L235.20,27.90 L235.70,27.88 L236.20,27.86 L236.70,27.84 L237.20,27.81 L237.70,27.79 L238.20,27.76 L238.70,27.73 L239.20,27.70 L239.70,27.66 L240.20,27.62 L240.70,27.58 L241.20,27.53 L241.70,27.47 L242.20,27.42 L242.70,27.35 L243.20,27.28 L243.70,27.20 L244.20,27.11 L244.70,27.00 L245.20,26.88 L245.70,26.75 L246.20,26.60 L246.70,26.42 L247.20,26.21 L247.70,25.97 L248.20,25.68 L248.70,25.33 L249.20,24.92 L249.70,24.42 L250.20,23.82 L250.70,23.09 L251.20,22.21 L251.70,21.16 L252.20,19.91 L252.70,18.47 L253.20,16.86 L253.70,15.11 L254.20,13.30 L254.70,11.54 L255.20,9.95 L255.70,8.68 L256.20,7.83 L256.70,7.50 L257.20,7.72 L257.70,8.47 L258.20,9.67 L258.70,11.20 L259.20,12.94 L259.70,14.75 L260.20,16.52 L260.70,18.16 L261.20,19.64 L261.70,20.92 L262.20,22.01 L262.70,22.93 L263.20,23.69 L263.70,24.31 L264.20,24.83 L264.70,25.26 L265.20,25.61 L265.70,25.91 L266.20,26.16 L266.70,26.38 L267.20,26.56 L267.70,26.72 L268.20,26.86 L268.70,26.98 L269.20,27.09 L269.70,27.18 L270.20,27.26 L270.70,27.34 L271.20,27.40 L271.70,27.46 L272.20,27.52 L272.70,27.57 L273.20,27.61 L273.70,27.65 L274.20,27.69 L274.70,27.72 L275.20,27.75 L275.70,27.78 L276.20,27.81 L276.70,27.83 L277.20,27.86 L277.70,27.88 L278.20,27.90 L278.70,27.91 L279.20,27.93 L279.70,27.95 L280.20,27.96 L280.70,27.98 L281.20,27.99 L281.70,28.00 L282.20,28.01 L282.70,28.03 L283.20,28.04 L283.70,28.05 L284.20,28.05 L284.70,28.06 L285.20,28.07 L285.70,28.08 L286.20,28.09 L286.70,28.09 L287.20,28.10 L287.70,28.11 L288.20,28.11 L288.70,28.12 L289.20,28.12 L289.70,28.13 L290.20,28.13 L290.70,28.14 L291.20,28.14 L291.70,28.15 L292.20,28.15 L292.70,28.16 L293.20,28.16 L293.70,28.16 L294.20,28.17 L294.70,28.17 L295.20,28.18 L295.70,28.18 L296.20,28.18 L296.70,28.18 L297.20,28.19 L297.70,28.19 L298.20,28.19 L298.70,28.20 L299.20,28.20 L299.70,28.20 L300.20,28.20 L300.70,28.20 L301.20,28.21 L301.70,28.21 L302.20,28.21 L302.70,28.21 L303.20,28.21 L303.70,28.22 L304.20,28.22 L304.70,28.22 L305.20,28.22 L305.70,28.22 L306.20,28.22 L306.70,28.23 L307.20,28.23 L307.70,28.23 L308.20,28.23 L308.70,28.23 L309.20,28.23 L309.70,28.23 L310.20,28.24 L310.70,28.24 L311.20,28.24 L311.70,28.24 L312.20,28.24 L312.70,28.24 L313.20,28.24 L313.70,28.24 L314.20,28.24 L314.70,28.25 L315.20,28.25 L315.70,28.25 L316.20,28.25 L316.70,28.25 L317.20,28.25 L317.70,28.25 L318.20,28.25 L318.70,28.25 L319.20,28.25 L319.70,28.25 L320.20,28.25 L320.70,28.25 L321.20,28.26 L321.70,28.26 L322.20,28.26 L322.70,28.26 L323.20,28.26 L323.70,28.26 L324.20,28.26 L324.70,28.26 L325.20,28.26 L325.70,28.26 L326.20,28.26 L326.70,28.26 L327.20,28.26 L327.70,28.26 L328.20,28.26 L328.70,28.26 L329.20,28.26 L329.70,28.27 L330.20,28.27 L330.70,28.27 L331.20,28.27 L331.70,28.27 L332.20,28.27 L332.70,28.27 L333.20,28.27 L333.70,28.27 L334.20,28.27 L334.70,28.27 L335.20,28.27 L335.70,28.27 L336.20,28.27 L336.70,28.27 L337.20,28.27 L337.70,28.27 L338.20,28.27 L338.70,28.27 L339.20,28.27 L339.70,28.27 L340.20,28.27 L340.70,28.27 L341.20,28.27 L341.70,28.27 L342.20,28.27 L342.70,28.28 L343.20,28.28 L343.70,28.28 L344.20,28.28 L344.70,28.28 L345.20,28.28 L345.70,28.28 L346.20,28.28 L346.70,28.28 L347.20,28.28 L347.70,28.28 L348.20,28.28 L348.70,28.28 L349.20,28.28 L349.70,28.28 L350.20,28.28 L350.70,28.28 L351.20,28.28 L351.70,28.28 L352.20,28.28 L352.70,28.28 L353.20,28.28 L353.70,28.28 L354.20,28.28 L354.70,28.28 L355.20,28.28 L355.70,28.28 L356.20,28.28 L356.70,28.28 L357.20,28.28 L357.70,28.28 L358.20,28.28 L358.70,28.28 L359.20,28.28" fill="none" stroke="#1e1e1e" stroke-width="1.3" stroke-linejoin="round" stroke-linecap="round" />
<path d="M206.20,50.25 L206.70,50.24 L207.20,50.24 L207.70,50.24 L208.20,50.24 L208.70,50.23 L209.20,50.23 L209.70,50.22 L210.20,50.22 L210.70,50.22 L211.20,50.21 L211.70,50.21 L212.20,50.20 L212.70,50.20 L213.20,50.19 L213.70,50.19 L214.20,50.18 L214.70,50.18 L215.20,50.17 L215.70,50.17 L216.20,50.16 L216.70,50.16 L217.20,50.15 L217.70,50.14 L218.20,50.14 L218.70,50.13 L219.20,50.12 L219.70,50.11 L220.20,50.11 L220.70,50.10 L221.20,50.09 L221.70,50.08 L222.20,50.07 L222.70,50.06 L223.20,50.05 L223.70,50.04 L224.20,50.03 L224.70,50.02 L225.20,50.00 L225.70,49.99 L226.20,49.98 L226.70,49.96 L227.20,49.95 L227.70,49.93 L228.20,49.91 L228.70,49.89 L229.20,49.88 L229.70,49.86 L230.20,49.83 L230.70,49.81 L231.20,49.79 L231.70,49.76 L232.20,49.74 L232.70,49.71 L233.20,49.68 L233.70,49.64 L234.20,49.61 L234.70,49.57 L235.20,49.53 L235.70,49.49 L236.20,49.44 L236.70,49.39 L237.20,49.34 L237.70,49.28 L238.20,49.22 L238.70,49.15 L239.20,49.07 L239.70,48.99 L240.20,48.90 L240.70,48.81 L241.20,48.70 L241.70,48.58 L242.20,48.45 L242.70,48.31 L243.20,48.15 L243.70,47.97 L244.20,47.77 L244.70,47.54 L245.20,47.29 L245.70,47.00 L246.20,46.68 L246.70,46.30 L247.20,45.88 L247.70,45.39 L248.20,44.82 L248.70,44.18 L249.20,43.43 L249.70,42.58 L250.20,41.60 L250.70,40.50 L251.20,39.27 L251.70,37.92 L252.20,36.47 L252.70,34.98 L253.20,33.49 L253.70,32.09 L254.20,30.86 L254.70,29.88 L255.20,29.25 L255.70,29.00 L256.20,29.17 L256.70,29.73 L257.20,30.64 L257.70,31.83 L258.20,33.20 L258.70,34.68 L259.20,36.18 L259.70,37.63 L260.20,39.00 L260.70,40.26 L261.20,41.39 L261.70,42.39 L262.20,43.27 L262.70,44.04 L263.20,44.70 L263.70,45.28 L264.20,45.78 L264.70,46.22 L265.20,46.60 L265.70,46.94 L266.20,47.23 L266.70,47.50 L267.20,47.73 L267.70,47.93 L268.20,48.11 L268.70,48.28 L269.20,48.42 L269.70,48.56 L270.20,48.68 L270.70,48.79 L271.20,48.89 L271.70,48.98 L272.20,49.06 L272.70,49.13 L273.20,49.20 L273.70,49.27 L274.20,49.33 L274.70,49.38 L275.20,49.43 L275.70,49.48 L276.20,49.52 L276.70,49.56 L277.20,49.60 L277.70,49.64 L278.20,49.67 L278.70,49.70 L279.20,49.73 L279.70,49.76 L280.20,49.78 L280.70,49.81 L281.20,49.83 L281.70,49.85 L282.20,49.87 L282.70,49.89 L283.20,49.91 L283.70,49.93 L284.20,49.94 L284.70,49.96 L285.20,49.97 L285.70,49.99 L286.20,50.00 L286.70,50.01 L287.20,50.02 L287.70,50.04 L288.20,50.05 L288.70,50.06 L289.20,50.07 L289.70,50.08 L290.20,50.09 L290.70,50.10 L291.20,50.10 L291.70,50.11 L292.20,50.12 L292.70,50.13 L293.20,50.13 L293.70,50.14 L294.20,50.15 L294.70,50.15 L295.20,50.16 L295.70,50.17 L296.20,50.17 L296.70,50.18 L297.20,50.18 L297.70,50.19 L298.20,50.19 L298.70,50.20 L299.20,50.20 L299.70,50.21 L300.20,50.21 L300.70,50.22 L301.20,50.22 L301.70,50.22 L302.20,50.23 L302.70,50.23 L303.20,50.23 L303.70,50.24 L304.20,50.24 L304.70,50.24 L305.20,50.25 L305.70,50.25 L306.20,50.25 L306.70,50.26 L307.20,50.26 L307.70,50.26 L308.20,50.26 L308.70,50.27 L309.20,50.27 L309.70,50.27 L310.20,50.27 L310.70,50.28 L311.20,50.28 L311.70,50.28 L312.20,50.28 L312.70,50.28 L313.20,50.29 L313.70,50.29 L314.20,50.29 L314.70,50.29 L315.20,50.29 L315.70,50.30 L316.20,50.30 L316.70,50.30 L317.20,50.30 L317.70,50.30 L318.20,50.30 L318.70,50.31 L319.20,50.31 L319.70,50.31 L320.20,50.31 L320.70,50.31 L321.20,50.31 L321.70,50.31 L322.20,50.32 L322.70,50.32 L323.20,50.32 L323.70,50.32 L324.20,50.32 L324.70,50.32 L325.20,50.32 L325.70,50.32 L326.20,50.32 L326.70,50.33 L327.20,50.33 L327.70,50.33 L328.20,50.33 L328.70,50.33 L329.20,50.33 L329.70,50.33 L330.20,50.33 L330.70,50.33 L331.20,50.33 L331.70,50.34 L332.20,50.34 L332.70,50.34 L333.20,50.34 L333.70,50.34 L334.20,50.34 L334.70,50.34 L335.20,50.34 L335.70,50.34 L336.20,50.34 L336.70,50.34 L337.20,50.34 L337.70,50.34 L338.20,50.35 L338.70,50.35 L339.20,50.35 L339.70,50.35 L340.20,50.35 L340.70,50.35 L341.20,50.35 L341.70,50.35 L342.20,50.35 L342.70,50.35 L343.20,50.35 L343.70,50.35 L344.20,50.35 L344.70,50.35 L345.20,50.35 L345.70,50.35 L346.20,50.35 L346.70,50.35 L347.20,50.36 L347.70,50.36 L348.20,50.36 L348.70,50.36 L349.20,50.36 L349.70,50.36 L350.20,50.36 L350.70,50.36 L351.20,50.36 L351.70,50.36 L352.20,50.36 L352.70,50.36 L353.20,50.36 L353.70,50.36 L354.20,50.36 L354.70,50.36 L355.20,50.36 L355.70,50.36 L356.20,50.36 L356.70,50.36 L357.20,50.36 L357.70,50.36 L358.20,50.36 L358.70,50.36 L359.20,50.37" fill="none" stroke="#2a48ff" stroke-width="1.3" stroke-linejoin="round" stroke-linecap="round" />
<path d="M206.20,71.80 L206.70,71.80 L207.20,71.79 L207.70,71.79 L208.20,71.79 L208.70,71.78 L209.20,71.78 L209.70,71.77 L210.20,71.77 L210.70,71.76 L211.20,71.76 L211.70,71.75 L212.20,71.75 L212.70,71.74 L213.20,71.73 L213.70,71.73 L214.20,71.72 L214.70,71.71 L215.20,71.71 L215.70,71.70 L216.20,71.69 L216.70,71.69 L217.20,71.68 L217.70,71.67 L218.20,71.66 L218.70,71.65 L219.20,71.64 L219.70,71.63 L220.20,71.62 L220.70,71.61 L221.20,71.60 L221.70,71.59 L222.20,71.58 L222.70,71.57 L223.20,71.55 L223.70,71.54 L224.20,71.53 L224.70,71.51 L225.20,71.50 L225.70,71.48 L226.20,71.46 L226.70,71.45 L227.20,71.43 L227.70,71.41 L228.20,71.39 L228.70,71.37 L229.20,71.34 L229.70,71.32 L230.20,71.29 L230.70,71.27 L231.20,71.24 L231.70,71.21 L232.20,71.18 L232.70,71.14 L233.20,71.11 L233.70,71.07 L234.20,71.03 L234.70,70.99 L235.20,70.94 L235.70,70.89 L236.20,70.84 L236.70,70.78 L237.20,70.72 L237.70,70.66 L238.20,70.58 L238.70,70.51 L239.20,70.43 L239.70,70.34 L240.20,70.24 L240.70,70.14 L241.20,70.02 L241.70,69.90 L242.20,69.76 L242.70,69.62 L243.20,69.45 L243.70,69.27 L244.20,69.07 L244.70,68.85 L245.20,68.61 L245.70,68.33 L246.20,68.03 L246.70,67.68 L247.20,67.30 L247.70,66.87 L248.20,66.38 L248.70,65.83 L249.20,65.21 L249.70,64.51 L250.20,63.72 L250.70,62.84 L251.20,61.85 L251.70,60.75 L252.20,59.56 L252.70,58.28 L253.20,56.93 L253.70,55.57 L254.20,54.24 L254.70,53.01 L255.20,51.95 L255.70,51.14 L256.20,50.65 L256.70,50.50 L257.20,50.72 L257.70,51.28 L258.20,52.14 L258.70,53.24 L259.20,54.50 L259.70,55.84 L260.20,57.20 L260.70,58.54 L261.20,59.80 L261.70,60.98 L262.20,62.05 L262.70,63.02 L263.20,63.89 L263.70,64.66 L264.20,65.34 L264.70,65.95 L265.20,66.48 L265.70,66.96 L266.20,67.38 L266.70,67.76 L267.20,68.09 L267.70,68.39 L268.20,68.66 L268.70,68.90 L269.20,69.11 L269.70,69.31 L270.20,69.49 L270.70,69.65 L271.20,69.79 L271.70,69.93 L272.20,70.05 L272.70,70.16 L273.20,70.26 L273.70,70.36 L274.20,70.44 L274.70,70.52 L275.20,70.60 L275.70,70.67 L276.20,70.73 L276.70,70.79 L277.20,70.85 L277.70,70.90 L278.20,70.95 L278.70,70.99 L279.20,71.04 L279.70,71.08 L280.20,71.11 L280.70,71.15 L281.20,71.18 L281.70,71.21 L282.20,71.24 L282.70,71.27 L283.20,71.30 L283.70,71.32 L284.20,71.35 L284.70,71.37 L285.20,71.39 L285.70,71.41 L286.20,71.43 L286.70,71.45 L287.20,71.47 L287.70,71.48 L288.20,71.50 L288.70,71.52 L289.20,71.53 L289.70,71.54 L290.20,71.56 L290.70,71.57 L291.20,71.58 L291.70,71.59 L292.20,71.60 L292.70,71.62 L293.20,71.63 L293.70,71.64 L294.20,71.65 L294.70,71.65 L295.20,71.66 L295.70,71.67 L296.20,71.68 L296.70,71.69 L297.20,71.70 L297.70,71.70 L298.20,71.71 L298.70,71.72 L299.20,71.72 L299.70,71.73 L300.20,71.74 L300.70,71.74 L301.20,71.75 L301.70,71.75 L302.20,71.76 L302.70,71.76 L303.20,71.77 L303.70,71.77 L304.20,71.78 L304.70,71.78 L305.20,71.79 L305.70,71.79 L306.20,71.80 L306.70,71.80 L307.20,71.80 L307.70,71.81 L308.20,71.81 L308.70,71.81 L309.20,71.82 L309.70,71.82 L310.20,71.82 L310.70,71.83 L311.20,71.83 L311.70,71.83 L312.20,71.84 L312.70,71.84 L313.20,71.84 L313.70,71.85 L314.20,71.85 L314.70,71.85 L315.20,71.85 L315.70,71.86 L316.20,71.86 L316.70,71.86 L317.20,71.86 L317.70,71.86 L318.20,71.87 L318.70,71.87 L319.20,71.87 L319.70,71.87 L320.20,71.88 L320.70,71.88 L321.20,71.88 L321.70,71.88 L322.20,71.88 L322.70,71.88 L323.20,71.89 L323.70,71.89 L324.20,71.89 L324.70,71.89 L325.20,71.89 L325.70,71.89 L326.20,71.90 L326.70,71.90 L327.20,71.90 L327.70,71.90 L328.20,71.90 L328.70,71.90 L329.20,71.90 L329.70,71.91 L330.20,71.91 L330.70,71.91 L331.20,71.91 L331.70,71.91 L332.20,71.91 L332.70,71.91 L333.20,71.91 L333.70,71.91 L334.20,71.92 L334.70,71.92 L335.20,71.92 L335.70,71.92 L336.20,71.92 L336.70,71.92 L337.20,71.92 L337.70,71.92 L338.20,71.92 L338.70,71.92 L339.20,71.93 L339.70,71.93 L340.20,71.93 L340.70,71.93 L341.20,71.93 L341.70,71.93 L342.20,71.93 L342.70,71.93 L343.20,71.93 L343.70,71.93 L344.20,71.93 L344.70,71.93 L345.20,71.94 L345.70,71.94 L346.20,71.94 L346.70,71.94 L347.20,71.94 L347.70,71.94 L348.20,71.94 L348.70,71.94 L349.20,71.94 L349.70,71.94 L350.20,71.94 L350.70,71.94 L351.20,71.94 L351.70,71.94 L352.20,71.94 L352.70,71.95 L353.20,71.95 L353.70,71.95 L354.20,71.95 L354.70,71.95 L355.20,71.95 L355.70,71.95 L356.20,71.95 L356.70,71.95 L357.20,71.95 L357.70,71.95 L358.20,71.95 L358.70,71.95 L359.20,71.95" fill="none" stroke="#2a48ff" stroke-width="1.3" stroke-linejoin="round" stroke-linecap="round" />
<path d="M206.20,93.32 L206.70,93.31 L207.20,93.31 L207.70,93.30 L208.20,93.30 L208.70,93.29 L209.20,93.28 L209.70,93.28 L210.20,93.27 L210.70,93.26 L211.20,93.26 L211.70,93.25 L212.20,93.24 L212.70,93.23 L213.20,93.22 L213.70,93.22 L214.20,93.21 L214.70,93.20 L215.20,93.19 L215.70,93.18 L216.20,93.17 L216.70,93.16 L217.20,93.15 L217.70,93.14 L218.20,93.12 L218.70,93.11 L219.20,93.10 L219.70,93.09 L220.20,93.07 L220.70,93.06 L221.20,93.04 L221.70,93.03 L222.20,93.01 L222.70,93.00 L223.20,92.98 L223.70,92.96 L224.20,92.94 L224.70,92.92 L225.20,92.90 L225.70,92.88 L226.20,92.86 L226.70,92.83 L227.20,92.81 L227.70,92.78 L228.20,92.75 L228.70,92.72 L229.20,92.69 L229.70,92.66 L230.20,92.63 L230.70,92.59 L231.20,92.56 L231.70,92.52 L232.20,92.47 L232.70,92.43 L233.20,92.38 L233.70,92.33 L234.20,92.28 L234.70,92.22 L235.20,92.17 L235.70,92.10 L236.20,92.03 L236.70,91.96 L237.20,91.88 L237.70,91.80 L238.20,91.71 L238.70,91.62 L239.20,91.52 L239.70,91.41 L240.20,91.29 L240.70,91.16 L241.20,91.02 L241.70,90.87 L242.20,90.71 L242.70,90.53 L243.20,90.33 L243.70,90.12 L244.20,89.89 L244.70,89.64 L245.20,89.36 L245.70,89.06 L246.20,88.72 L246.70,88.35 L247.20,87.94 L247.70,87.49 L248.20,86.99 L248.70,86.43 L249.20,85.82 L249.70,85.15 L250.20,84.41 L250.70,83.60 L251.20,82.73 L251.70,81.78 L252.20,80.77 L252.70,79.70 L253.20,78.60 L253.70,77.49 L254.20,76.39 L254.70,75.36 L255.20,74.41 L255.70,73.61 L256.20,72.99 L256.70,72.58 L257.20,72.40 L257.70,72.48 L258.20,72.80 L258.70,73.34 L259.20,74.07 L259.70,74.97 L260.20,75.97 L260.70,77.05 L261.20,78.16 L261.70,79.26 L262.20,80.35 L262.70,81.38 L263.20,82.35 L263.70,83.26 L264.20,84.10 L264.70,84.86 L265.20,85.56 L265.70,86.20 L266.20,86.77 L266.70,87.29 L267.20,87.76 L267.70,88.19 L268.20,88.58 L268.70,88.92 L269.20,89.24 L269.70,89.53 L270.20,89.79 L270.70,90.03 L271.20,90.25 L271.70,90.45 L272.20,90.64 L272.70,90.81 L273.20,90.96 L273.70,91.10 L274.20,91.24 L274.70,91.36 L275.20,91.47 L275.70,91.58 L276.20,91.68 L276.70,91.77 L277.20,91.85 L277.70,91.93 L278.20,92.01 L278.70,92.08 L279.20,92.14 L279.70,92.20 L280.20,92.26 L280.70,92.31 L281.20,92.36 L281.70,92.41 L282.20,92.46 L282.70,92.50 L283.20,92.54 L283.70,92.58 L284.20,92.61 L284.70,92.65 L285.20,92.68 L285.70,92.71 L286.20,92.74 L286.70,92.77 L287.20,92.80 L287.70,92.82 L288.20,92.85 L288.70,92.87 L289.20,92.89 L289.70,92.91 L290.20,92.93 L290.70,92.95 L291.20,92.97 L291.70,92.99 L292.20,93.01 L292.70,93.02 L293.20,93.04 L293.70,93.05 L294.20,93.07 L294.70,93.08 L295.20,93.09 L295.70,93.11 L296.20,93.12 L296.70,93.13 L297.20,93.14 L297.70,93.15 L298.20,93.16 L298.70,93.18 L299.20,93.19 L299.70,93.19 L300.20,93.20 L300.70,93.21 L301.20,93.22 L301.70,93.23 L302.20,93.24 L302.70,93.25 L303.20,93.25 L303.70,93.26 L304.20,93.27 L304.70,93.27 L305.20,93.28 L305.70,93.29 L306.20,93.29 L306.70,93.30 L307.20,93.31 L307.70,93.31 L308.20,93.32 L308.70,93.32 L309.20,93.33 L309.70,93.33 L310.20,93.34 L310.70,93.34 L311.20,93.35 L311.70,93.35 L312.20,93.36 L312.70,93.36 L313.20,93.37 L313.70,93.37 L314.20,93.37 L314.70,93.38 L315.20,93.38 L315.70,93.38 L316.20,93.39 L316.70,93.39 L317.20,93.40 L317.70,93.40 L318.20,93.40 L318.70,93.41 L319.20,93.41 L319.70,93.41 L320.20,93.41 L320.70,93.42 L321.20,93.42 L321.70,93.42 L322.20,93.43 L322.70,93.43 L323.20,93.43 L323.70,93.43 L324.20,93.44 L324.70,93.44 L325.20,93.44 L325.70,93.44 L326.20,93.45 L326.70,93.45 L327.20,93.45 L327.70,93.45 L328.20,93.45 L328.70,93.46 L329.20,93.46 L329.70,93.46 L330.20,93.46 L330.70,93.46 L331.20,93.47 L331.70,93.47 L332.20,93.47 L332.70,93.47 L333.20,93.47 L333.70,93.47 L334.20,93.48 L334.70,93.48 L335.20,93.48 L335.70,93.48 L336.20,93.48 L336.70,93.48 L337.20,93.48 L337.70,93.49 L338.20,93.49 L338.70,93.49 L339.20,93.49 L339.70,93.49 L340.20,93.49 L340.70,93.49 L341.20,93.50 L341.70,93.50 L342.20,93.50 L342.70,93.50 L343.20,93.50 L343.70,93.50 L344.20,93.50 L344.70,93.50 L345.20,93.50 L345.70,93.51 L346.20,93.51 L346.70,93.51 L347.20,93.51 L347.70,93.51 L348.20,93.51 L348.70,93.51 L349.20,93.51 L349.70,93.51 L350.20,93.51 L350.70,93.52 L351.20,93.52 L351.70,93.52 L352.20,93.52 L352.70,93.52 L353.20,93.52 L353.70,93.52 L354.20,93.52 L354.70,93.52 L355.20,93.52 L355.70,93.52 L356.20,93.52 L356.70,93.53 L357.20,93.53 L357.70,93.53 L358.20,93.53 L358.70,93.53 L359.20,93.53" fill="none" stroke="#2a48ff" stroke-width="1.3" stroke-linejoin="round" stroke-linecap="round" />
<path d="M206.20,115.20 L206.70,115.20 L207.20,115.20 L207.70,115.19 L208.20,115.19 L208.70,115.18 L209.20,115.18 L209.70,115.17 L210.20,115.17 L210.70,115.16 L211.20,115.16 L211.70,115.15 L212.20,115.15 L212.70,115.14 L213.20,115.14 L213.70,115.13 L214.20,115.12 L214.70,115.12 L215.20,115.11 L215.70,115.10 L216.20,115.10 L216.70,115.09 L217.20,115.08 L217.70,115.07 L218.20,115.06 L218.70,115.06 L219.20,115.05 L219.70,115.04 L220.20,115.03 L220.70,115.02 L221.20,115.01 L221.70,114.99 L222.20,114.98 L222.70,114.97 L223.20,114.96 L223.70,114.94 L224.20,114.93 L224.70,114.91 L225.20,114.90 L225.70,114.88 L226.20,114.87 L226.70,114.85 L227.20,114.83 L227.70,114.81 L228.20,114.79 L228.70,114.77 L229.20,114.75 L229.70,114.72 L230.20,114.70 L230.70,114.67 L231.20,114.64 L231.70,114.61 L232.20,114.58 L232.70,114.54 L233.20,114.51 L233.70,114.47 L234.20,114.43 L234.70,114.39 L235.20,114.34 L235.70,114.29 L236.20,114.24 L236.70,114.18 L237.20,114.12 L237.70,114.05 L238.20,113.98 L238.70,113.91 L239.20,113.82 L239.70,113.73 L240.20,113.64 L240.70,113.53 L241.20,113.41 L241.70,113.29 L242.20,113.15 L242.70,113.00 L243.20,112.83 L243.70,112.65 L244.20,112.45 L244.70,112.22 L245.20,111.97 L245.70,111.69 L246.20,111.38 L246.70,111.03 L247.20,110.64 L247.70,110.20 L248.20,109.70 L248.70,109.14 L249.20,108.51 L249.70,107.79 L250.20,106.98 L250.70,106.07 L251.20,105.06 L251.70,103.94 L252.20,102.73 L252.70,101.42 L253.20,100.07 L253.70,98.71 L254.20,97.40 L254.70,96.22 L255.20,95.25 L255.70,94.57 L256.20,94.23 L256.70,94.27 L257.20,94.68 L257.70,95.42 L258.20,96.44 L258.70,97.65 L259.20,98.98 L259.70,100.34 L260.20,101.69 L260.70,102.98 L261.20,104.18 L261.70,105.27 L262.20,106.26 L262.70,107.15 L263.20,107.94 L263.70,108.64 L264.20,109.26 L264.70,109.81 L265.20,110.29 L265.70,110.72 L266.20,111.11 L266.70,111.45 L267.20,111.75 L267.70,112.02 L268.20,112.27 L268.70,112.49 L269.20,112.69 L269.70,112.87 L270.20,113.03 L270.70,113.18 L271.20,113.31 L271.70,113.44 L272.20,113.55 L272.70,113.66 L273.20,113.75 L273.70,113.84 L274.20,113.92 L274.70,114.00 L275.20,114.07 L275.70,114.13 L276.20,114.19 L276.70,114.25 L277.20,114.30 L277.70,114.35 L278.20,114.39 L278.70,114.44 L279.20,114.48 L279.70,114.52 L280.20,114.55 L280.70,114.58 L281.20,114.62 L281.70,114.65 L282.20,114.67 L282.70,114.70 L283.20,114.73 L283.70,114.75 L284.20,114.77 L284.70,114.79 L285.20,114.81 L285.70,114.83 L286.20,114.85 L286.70,114.87 L287.20,114.89 L287.70,114.90 L288.20,114.92 L288.70,114.93 L289.20,114.95 L289.70,114.96 L290.20,114.97 L290.70,114.98 L291.20,115.00 L291.70,115.01 L292.20,115.02 L292.70,115.03 L293.20,115.04 L293.70,115.05 L294.20,115.06 L294.70,115.07 L295.20,115.07 L295.70,115.08 L296.20,115.09 L296.70,115.10 L297.20,115.10 L297.70,115.11 L298.20,115.12 L298.70,115.13 L299.20,115.13 L299.70,115.14 L300.20,115.14 L300.70,115.15 L301.20,115.15 L301.70,115.16 L302.20,115.17 L302.70,115.17 L303.20,115.18 L303.70,115.18 L304.20,115.18 L304.70,115.19 L305.20,115.19 L305.70,115.20 L306.20,115.20 L306.70,115.21 L307.20,115.21 L307.70,115.21 L308.20,115.22 L308.70,115.22 L309.20,115.22 L309.70,115.23 L310.20,115.23 L310.70,115.23 L311.20,115.24 L311.70,115.24 L312.20,115.24 L312.70,115.24 L313.20,115.25 L313.70,115.25 L314.20,115.25 L314.70,115.25 L315.20,115.26 L315.70,115.26 L316.20,115.26 L316.70,115.26 L317.20,115.27 L317.70,115.27 L318.20,115.27 L318.70,115.27 L319.20,115.27 L319.70,115.28 L320.20,115.28 L320.70,115.28 L321.20,115.28 L321.70,115.28 L322.20,115.29 L322.70,115.29 L323.20,115.29 L323.70,115.29 L324.20,115.29 L324.70,115.29 L325.20,115.30 L325.70,115.30 L326.20,115.30 L326.70,115.30 L327.20,115.30 L327.70,115.30 L328.20,115.30 L328.70,115.31 L329.20,115.31 L329.70,115.31 L330.20,115.31 L330.70,115.31 L331.20,115.31 L331.70,115.31 L332.20,115.31 L332.70,115.31 L333.20,115.32 L333.70,115.32 L334.20,115.32 L334.70,115.32 L335.20,115.32 L335.70,115.32 L336.20,115.32 L336.70,115.32 L337.20,115.32 L337.70,115.33 L338.20,115.33 L338.70,115.33 L339.20,115.33 L339.70,115.33 L340.20,115.33 L340.70,115.33 L341.20,115.33 L341.70,115.33 L342.20,115.33 L342.70,115.33 L343.20,115.33 L343.70,115.33 L344.20,115.34 L344.70,115.34 L345.20,115.34 L345.70,115.34 L346.20,115.34 L346.70,115.34 L347.20,115.34 L347.70,115.34 L348.20,115.34 L348.70,115.34 L349.20,115.34 L349.70,115.34 L350.20,115.34 L350.70,115.34 L351.20,115.34 L351.70,115.35 L352.20,115.35 L352.70,115.35 L353.20,115.35 L353.70,115.35 L354.20,115.35 L354.70,115.35 L355.20,115.35 L355.70,115.35 L356.20,115.35 L356.70,115.35 L357.20,115.35 L357.70,115.35 L358.20,115.35 L358.70,115.35 L359.20,115.35" fill="none" stroke="#ff2852" stroke-width="1.3" stroke-linejoin="round" stroke-linecap="round" />
<text transform="translate(351.4,27.1) scale(1,1.1)" font-size="6.9" fill="#1e1e1e" stroke="#1e1e1e" stroke-width="0.36" text-anchor="middle" font-family="Liberation Sans, sans-serif" font-weight="bold" >0</text>
<text transform="translate(351.4,48.8) scale(1,1.1)" font-size="6.9" fill="#2a48ff" stroke="#2a48ff" stroke-width="0.36" text-anchor="middle" font-family="Liberation Sans, sans-serif" font-weight="bold" >4</text>
<text transform="translate(351.4,70.9) scale(1,1.1)" font-size="6.9" fill="#2a48ff" stroke="#2a48ff" stroke-width="0.36" text-anchor="middle" font-family="Liberation Sans, sans-serif" font-weight="bold" >8</text>
<text transform="translate(351.4,91.8) scale(1,1.1)" font-size="6.9" fill="#2a48ff" stroke="#2a48ff" stroke-width="0.36" text-anchor="middle" font-family="Liberation Sans, sans-serif" font-weight="bold" >12</text>
<text transform="translate(351.4,113.1) scale(1,1.1)" font-size="6.9" fill="#ff2852" stroke="#ff2852" stroke-width="0.36" text-anchor="middle" font-family="Liberation Sans, sans-serif" font-weight="bold" >0-95</text>
<rect x="16.8" y="143.2" width="153.6" height="114.30000000000001" fill="none" stroke="#1e1e1e" stroke-width="1.25"/>
<line x1="16.8" y1="257.5" x2="16.8" y2="260.0" stroke="#1e1e1e" stroke-width="1.2" />
<line x1="22.944000000000003" y1="257.5" x2="22.944000000000003" y2="259.5" stroke="#1e1e1e" stroke-width="1.1" />
<line x1="29.088" y1="257.5" x2="29.088" y2="259.5" stroke="#1e1e1e" stroke-width="1.1" />
<line x1="35.232" y1="257.5" x2="35.232" y2="259.5" stroke="#1e1e1e" stroke-width="1.1" />
<line x1="41.376000000000005" y1="257.5" x2="41.376000000000005" y2="259.5" stroke="#1e1e1e" stroke-width="1.1" />
<line x1="47.519999999999996" y1="257.5" x2="47.519999999999996" y2="260.0" stroke="#1e1e1e" stroke-width="1.2" />
<line x1="53.664" y1="257.5" x2="53.664" y2="259.5" stroke="#1e1e1e" stroke-width="1.1" />
<line x1="59.80800000000001" y1="257.5" x2="59.80800000000001" y2="259.5" stroke="#1e1e1e" stroke-width="1.1" />
<line x1="65.952" y1="257.5" x2="65.952" y2="259.5" stroke="#1e1e1e" stroke-width="1.1" />
<line x1="72.096" y1="257.5" x2="72.096" y2="259.5" stroke="#1e1e1e" stroke-width="1.1" />
<line x1="78.24" y1="257.5" x2="78.24" y2="260.0" stroke="#1e1e1e" stroke-width="1.2" />
<line x1="84.384" y1="257.5" x2="84.384" y2="259.5" stroke="#1e1e1e" stroke-width="1.1" />
<line x1="90.52799999999999" y1="257.5" x2="90.52799999999999" y2="259.5" stroke="#1e1e1e" stroke-width="1.1" />
<line x1="96.672" y1="257.5" x2="96.672" y2="259.5" stroke="#1e1e1e" stroke-width="1.1" />
<line x1="102.816" y1="257.5" x2="102.816" y2="259.5" stroke="#1e1e1e" stroke-width="1.1" />
<line x1="108.96" y1="257.5" x2="108.96" y2="260.0" stroke="#1e1e1e" stroke-width="1.2" />
<line x1="115.104" y1="257.5" x2="115.104" y2="259.5" stroke="#1e1e1e" stroke-width="1.1" />
<line x1="121.24799999999999" y1="257.5" x2="121.24799999999999" y2="259.5" stroke="#1e1e1e" stroke-width="1.1" />
<line x1="127.392" y1="257.5" x2="127.392" y2="259.5" stroke="#1e1e1e" stroke-width="1.1" />
<line x1="133.536" y1="257.5" x2="133.536" y2="259.5" stroke="#1e1e1e" stroke-width="1.1" />
<line x1="139.68" y1="257.5" x2="139.68" y2="260.0" stroke="#1e1e1e" stroke-width="1.2" />
<line x1="145.824" y1="257.5" x2="145.824" y2="259.5" stroke="#1e1e1e" stroke-width="1.1" />
<line x1="151.96800000000002" y1="257.5" x2="151.96800000000002" y2="259.5" stroke="#1e1e1e" stroke-width="1.1" />
<line x1="158.11200000000002" y1="257.5" x2="158.11200000000002" y2="259.5" stroke="#1e1e1e" stroke-width="1.1" />
<line x1="164.256" y1="257.5" x2="164.256" y2="259.5" stroke="#1e1e1e" stroke-width="1.1" />
<line x1="170.4" y1="257.5" x2="170.4" y2="260.0" stroke="#1e1e1e" stroke-width="1.2" />
<text transform="translate(16.8,267.4) scale(1,1.1)" font-size="7.9" fill="#1e1e1e" stroke="#1e1e1e" stroke-width="0.36" text-anchor="middle" font-family="Liberation Sans, sans-serif" font-weight="bold" >1000</text>
<text transform="translate(47.519999999999996,267.4) scale(1,1.1)" font-size="7.9" fill="#1e1e1e" stroke="#1e1e1e" stroke-width="0.36" text-anchor="middle" font-family="Liberation Sans, sans-serif" font-weight="bold" >1500</text>
<text transform="translate(78.24,267.4) scale(1,1.1)" font-size="7.9" fill="#1e1e1e" stroke="#1e1e1e" stroke-width="0.36" text-anchor="middle" font-family="Liberation Sans, sans-serif" font-weight="bold" >2000</text>
<text transform="translate(108.96,267.4) scale(1,1.1)" font-size="7.9" fill="#1e1e1e" stroke="#1e1e1e" stroke-width="0.36" text-anchor="middle" font-family="Liberation Sans, sans-serif" font-weight="bold" >2500</text>
<text transform="translate(139.68,267.4) scale(1,1.1)" font-size="7.9" fill="#1e1e1e" stroke="#1e1e1e" stroke-width="0.36" text-anchor="middle" font-family="Liberation Sans, sans-serif" font-weight="bold" >3000</text>
<text transform="translate(170.4,267.4) scale(1,1.1)" font-size="7.9" fill="#1e1e1e" stroke="#1e1e1e" stroke-width="0.36" text-anchor="middle" font-family="Liberation Sans, sans-serif" font-weight="bold" >3500</text>
<text transform="translate(3.2,139.4) scale(1,1.1)" font-size="15.5" fill="#1e1e1e" stroke="#1e1e1e" stroke-width="0.55" text-anchor="start" font-family="Liberation Sans, sans-serif" font-weight="bold" >c</text>
<text transform="translate(53.9,278.3) scale(1,1.1)" font-size="9.1" fill="#1e1e1e" stroke="#1e1e1e" stroke-width="0.36" font-family="Liberation Sans, sans-serif" font-weight="bold">Raman Shift (cm<tspan font-size="5.5" dy="-4.2"> -1</tspan><tspan dy="4.2">)</tspan></text>
<text transform="translate(10.0,238.3) rotate(-90) scale(1,1.1)" font-size="9.2" fill="#1e1e1e" stroke="#1e1e1e" stroke-width="0.36" font-family="Liberation Sans, sans-serif" font-weight="bold">Intensity (a.u.)</text>
<path d="M17.30,177.13 L17.80,177.07 L18.30,177.00 L18.80,176.93 L19.30,176.85 L19.80,176.77 L20.30,176.68 L20.80,176.58 L21.30,176.47 L21.80,176.35 L22.30,176.22 L22.80,176.08 L23.30,175.93 L23.80,175.76 L24.30,175.57 L24.80,175.36 L25.30,175.13 L25.80,174.88 L26.30,174.60 L26.80,174.29 L27.30,173.94 L27.80,173.55 L28.30,173.11 L28.80,172.62 L29.30,172.06 L29.80,171.44 L30.30,170.73 L30.80,169.93 L31.30,169.01 L31.80,167.98 L32.30,166.80 L32.80,165.46 L33.30,163.95 L33.80,162.26 L34.30,160.38 L34.80,158.33 L35.30,156.16 L35.80,153.93 L36.30,151.77 L36.80,149.82 L37.30,148.27 L37.80,147.29 L38.30,147.00 L38.80,147.34 L39.30,148.23 L39.80,149.56 L40.30,151.21 L40.80,153.04 L41.30,154.93 L41.80,156.77 L42.30,158.51 L42.80,160.10 L43.30,161.49 L43.80,162.68 L44.30,163.65 L44.80,164.40 L45.30,164.90 L45.80,165.14 L46.30,165.13 L46.80,164.83 L47.30,164.25 L47.80,163.37 L48.30,162.21 L48.80,160.76 L49.30,159.07 L49.80,157.17 L50.30,155.13 L50.80,153.04 L51.30,151.03 L51.80,149.25 L52.30,147.87 L52.80,147.05 L53.30,146.92 L53.80,148.64 L54.30,152.55 L54.80,157.40 L55.30,162.20 L55.80,166.37 L56.30,169.68 L56.80,172.12 L57.30,173.82 L57.80,174.97 L58.30,175.74 L58.80,176.27 L59.30,176.67 L59.80,176.97 L60.30,177.22 L60.80,177.43 L61.30,177.62 L61.80,177.78 L62.30,177.93 L62.80,178.06 L63.30,178.18 L63.80,178.29 L64.30,178.39 L64.80,178.49 L65.30,178.57 L65.80,178.65 L66.30,178.73 L66.80,178.80 L67.30,178.87 L67.80,178.94 L68.30,179.00 L68.80,179.06 L69.30,179.11 L69.80,179.17 L70.30,179.22 L70.80,179.27 L71.30,179.31 L71.80,179.36 L72.30,179.40 L72.80,179.44 L73.30,179.49 L73.80,179.53 L74.30,179.56 L74.80,179.60 L75.30,179.64 L75.80,179.67 L76.30,179.71 L76.80,179.74 L77.30,179.78 L77.80,179.81 L78.30,179.84 L78.80,179.87 L79.30,179.90 L79.80,179.93 L80.30,179.96 L80.80,179.99 L81.30,180.02 L81.80,180.04 L82.30,180.07 L82.80,180.10 L83.30,180.12 L83.80,180.15 L84.30,180.17 L84.80,180.20 L85.30,180.22 L85.80,180.25 L86.30,180.27 L86.80,180.30 L87.30,180.32 L87.80,180.34 L88.30,180.35 L88.80,180.36 L89.30,180.36 L89.80,180.36 L90.30,180.36 L90.80,180.36 L91.30,180.36 L91.80,180.36 L92.30,180.36 L92.80,180.36 L93.30,180.35 L93.80,180.35 L94.30,180.35 L94.80,180.35 L95.30,180.35 L95.80,180.35 L96.30,180.35 L96.80,180.34 L97.30,180.34 L97.80,180.34 L98.30,180.34 L98.80,180.34 L99.30,180.33 L99.80,180.33 L100.30,180.29 L100.80,180.22 L101.30,180.16 L101.80,180.09 L102.30,180.02 L102.80,179.96 L103.30,179.89 L103.80,179.82 L104.30,179.76 L104.80,179.69 L105.30,179.62 L105.80,179.56 L106.30,179.49 L106.80,179.42 L107.30,179.35 L107.80,179.29 L108.30,179.22 L108.80,179.15 L109.30,179.08 L109.80,179.02 L110.30,178.95 L110.80,178.88 L111.30,178.81 L111.80,178.75 L112.30,178.68 L112.80,178.61 L113.30,178.54 L113.80,178.47 L114.30,178.41 L114.80,178.34 L115.30,178.27 L115.80,178.20 L116.30,178.13 L116.80,178.07 L117.30,178.00 L117.80,177.93 L118.30,177.86 L118.80,177.82 L119.30,177.79 L119.80,177.76 L120.30,177.73 L120.80,177.70 L121.30,177.67 L121.80,177.64 L122.30,177.61 L122.80,177.58 L123.30,177.55 L123.80,177.52 L124.30,177.49 L124.80,177.46 L125.30,177.43 L125.80,177.40 L126.30,177.37 L126.80,177.34 L127.30,177.31 L127.80,177.28 L128.30,177.25 L128.80,177.22 L129.30,177.19 L129.80,177.16 L130.30,177.12 L130.80,177.09 L131.30,177.06 L131.80,177.03 L132.30,177.00 L132.80,176.97 L133.30,176.94 L133.80,176.91 L134.30,176.88 L134.80,176.85 L135.30,176.93 L135.80,177.05 L136.30,177.16 L136.80,177.28 L137.30,177.39 L137.80,177.51 L138.30,177.62 L138.80,177.74 L139.30,177.85 L139.80,177.96 L140.30,178.08 L140.80,178.19 L141.30,178.31 L141.80,178.42 L142.30,178.54 L142.80,178.62 L143.30,178.70 L143.80,178.79 L144.30,178.87 L144.80,178.95 L145.30,179.04 L145.80,179.12 L146.30,179.20 L146.80,179.29 L147.30,179.37 L147.80,179.45 L148.30,179.54 L148.80,179.62 L149.30,179.70 L149.80,179.79 L150.30,179.87 L150.80,179.95 L151.30,180.03 L151.80,180.12 L152.30,180.20 L152.80,180.28 L153.30,180.37 L153.80,180.40 L154.30,180.44 L154.80,180.47 L155.30,180.51 L155.80,180.54 L156.30,180.58 L156.80,180.61 L157.30,180.65 L157.80,180.68 L158.30,180.72 L158.80,180.75 L159.30,180.79 L159.80,180.82 L160.30,180.86 L160.80,180.89 L161.30,180.93 L161.80,180.97 L162.30,181.00 L162.80,181.04 L163.30,181.07 L163.80,181.11 L164.30,181.14 L164.80,181.18 L165.30,181.21 L165.80,181.25 L166.30,181.28 L166.80,181.32 L167.30,181.35 L167.80,181.39 L168.30,181.42 L168.80,181.46 L169.30,181.49 L169.80,181.53" fill="none" stroke="#1e1e1e" stroke-width="1.3" stroke-linejoin="round" stroke-linecap="round" />
<path d="M17.30,194.20 L17.80,194.15 L18.30,194.05 L18.80,193.94 L19.30,193.87 L19.80,193.75 L20.30,193.71 L20.80,193.66 L21.30,193.45 L21.80,193.31 L22.30,193.23 L22.80,193.07 L23.30,192.88 L23.80,192.65 L24.30,192.49 L24.80,192.30 L25.30,191.95 L25.80,191.72 L26.30,191.34 L26.80,191.03 L27.30,190.63 L27.80,190.29 L28.30,189.78 L28.80,189.33 L29.30,188.74 L29.80,188.07 L30.30,187.21 L30.80,186.48 L31.30,185.56 L31.80,184.52 L32.30,183.25 L32.80,181.97 L33.30,180.46 L33.80,178.83 L34.30,177.14 L34.80,175.14 L35.30,173.18 L35.80,171.23 L36.30,169.25 L36.80,167.59 L37.30,166.28 L37.80,165.44 L38.30,165.12 L38.80,165.46 L39.30,166.25 L39.80,167.22 L40.30,168.74 L40.80,170.28 L41.30,171.89 L41.80,173.66 L42.30,175.17 L42.80,176.50 L43.30,177.84 L43.80,178.95 L44.30,179.79 L44.80,180.49 L45.30,180.87 L45.80,181.09 L46.30,181.05 L46.80,180.61 L47.30,180.06 L47.80,179.17 L48.30,178.10 L48.80,176.70 L49.30,175.20 L49.80,173.54 L50.30,171.83 L50.80,170.07 L51.30,168.27 L51.80,166.84 L52.30,165.81 L52.80,165.05 L53.30,165.08 L53.80,166.58 L54.30,170.01 L54.80,174.27 L55.30,178.61 L55.80,182.58 L56.30,185.88 L56.80,188.52 L57.30,190.30 L57.80,191.64 L58.30,192.60 L58.80,193.23 L59.30,193.70 L59.80,194.01 L60.30,194.36 L60.80,194.58 L61.30,194.87 L61.80,195.03 L62.30,195.17 L62.80,195.35 L63.30,195.44 L63.80,195.64 L64.30,195.71 L64.80,195.85 L65.30,195.86 L65.80,196.04 L66.30,196.03 L66.80,196.09 L67.30,196.26 L67.80,196.31 L68.30,196.44 L68.80,196.61 L69.30,196.53 L69.80,196.60 L70.30,196.71 L70.80,196.78 L71.30,196.81 L71.80,196.86 L72.30,196.96 L72.80,197.01 L73.30,196.98 L73.80,197.08 L74.30,197.13 L74.80,197.13 L75.30,197.24 L75.80,197.23 L76.30,197.37 L76.80,197.37 L77.30,197.41 L77.80,197.42 L78.30,197.48 L78.80,197.43 L79.30,197.51 L79.80,197.62 L80.30,197.54 L80.80,197.72 L81.30,197.63 L81.80,197.79 L82.30,197.75 L82.80,197.87 L83.30,197.87 L83.80,197.82 L84.30,197.99 L84.80,198.04 L85.30,198.00 L85.80,198.02 L86.30,198.06 L86.80,198.05 L87.30,198.19 L87.80,198.14 L88.30,198.18 L88.80,198.14 L89.30,198.16 L89.80,198.13 L90.30,198.26 L90.80,198.19 L91.30,198.25 L91.80,198.21 L92.30,198.18 L92.80,198.20 L93.30,198.19 L93.80,198.22 L94.30,198.20 L94.80,198.21 L95.30,198.16 L95.80,198.19 L96.30,198.31 L96.80,198.20 L97.30,198.18 L97.80,198.25 L98.30,198.31 L98.80,198.17 L99.30,198.23 L99.80,198.21 L100.30,198.12 L100.80,198.18 L101.30,198.09 L101.80,198.03 L102.30,197.93 L102.80,197.93 L103.30,197.83 L103.80,197.79 L104.30,197.68 L104.80,197.61 L105.30,197.68 L105.80,197.53 L106.30,197.51 L106.80,197.43 L107.30,197.35 L107.80,197.29 L108.30,197.29 L108.80,197.18 L109.30,197.13 L109.80,197.08 L110.30,197.08 L110.80,196.99 L111.30,196.92 L111.80,196.81 L112.30,196.71 L112.80,196.76 L113.30,196.70 L113.80,196.59 L114.30,196.56 L114.80,196.51 L115.30,196.45 L115.80,196.40 L116.30,196.27 L116.80,196.31 L117.30,196.11 L117.80,196.15 L118.30,196.07 L118.80,196.05 L119.30,196.06 L119.80,196.00 L120.30,195.83 L120.80,195.77 L121.30,195.85 L121.80,195.72 L122.30,195.73 L122.80,195.74 L123.30,195.58 L123.80,195.51 L124.30,195.59 L124.80,195.54 L125.30,195.49 L125.80,195.47 L126.30,195.38 L126.80,195.31 L127.30,195.34 L127.80,195.26 L128.30,195.19 L128.80,195.26 L129.30,195.19 L129.80,195.17 L130.30,195.07 L130.80,195.04 L131.30,194.99 L131.80,194.95 L132.30,194.97 L132.80,194.88 L133.30,194.90 L133.80,194.86 L134.30,194.90 L134.80,194.69 L135.30,194.88 L135.80,194.92 L136.30,195.02 L136.80,195.04 L137.30,195.19 L137.80,195.34 L138.30,195.40 L138.80,195.50 L139.30,195.57 L139.80,195.74 L140.30,195.78 L140.80,195.76 L141.30,195.93 L141.80,195.96 L142.30,195.99 L142.80,196.21 L143.30,196.39 L143.80,196.41 L144.30,196.44 L144.80,196.53 L145.30,196.72 L145.80,196.76 L146.30,196.84 L146.80,196.92 L147.30,197.01 L147.80,197.13 L148.30,197.21 L148.80,197.27 L149.30,197.30 L149.80,197.46 L150.30,197.48 L150.80,197.66 L151.30,197.63 L151.80,197.77 L152.30,197.86 L152.80,197.88 L153.30,198.12 L153.80,198.15 L154.30,198.11 L154.80,198.22 L155.30,198.25 L155.80,198.15 L156.30,198.35 L156.80,198.38 L157.30,198.44 L157.80,198.43 L158.30,198.52 L158.80,198.58 L159.30,198.70 L159.80,198.71 L160.30,198.74 L160.80,198.87 L161.30,198.82 L161.80,198.87 L162.30,198.85 L162.80,199.07 L163.30,199.09 L163.80,199.14 L164.30,199.18 L164.80,199.20 L165.30,199.26 L165.80,199.29 L166.30,199.34 L166.80,199.40 L167.30,199.53 L167.80,199.53 L168.30,199.55 L168.80,199.58 L169.30,199.62 L169.80,199.79" fill="none" stroke="#2a48ff" stroke-width="1.3" stroke-linejoin="round" stroke-linecap="round" />
<path d="M17.30,215.82 L17.80,215.73 L18.30,215.63 L18.80,215.50 L19.30,215.52 L19.80,215.52 L20.30,215.33 L20.80,215.26 L21.30,215.16 L21.80,215.09 L22.30,214.84 L22.80,214.83 L23.30,214.65 L23.80,214.65 L24.30,214.36 L24.80,214.29 L25.30,214.18 L25.80,213.82 L26.30,213.57 L26.80,213.38 L27.30,213.08 L27.80,212.68 L28.30,212.43 L28.80,212.15 L29.30,211.51 L29.80,211.00 L30.30,210.34 L30.80,209.77 L31.30,208.87 L31.80,207.98 L32.30,207.14 L32.80,205.77 L33.30,204.56 L33.80,203.01 L34.30,201.11 L34.80,199.11 L35.30,197.00 L35.80,194.47 L36.30,192.05 L36.80,189.77 L37.30,188.06 L37.80,187.00 L38.30,186.61 L38.80,186.88 L39.30,187.96 L39.80,189.56 L40.30,191.52 L40.80,193.51 L41.30,195.58 L41.80,197.51 L42.30,199.23 L42.80,200.83 L43.30,202.21 L43.80,203.34 L44.30,204.33 L44.80,205.17 L45.30,205.58 L45.80,205.83 L46.30,205.73 L46.80,205.67 L47.30,204.97 L47.80,204.18 L48.30,203.19 L48.80,201.67 L49.30,199.76 L49.80,197.48 L50.30,195.20 L50.80,192.65 L51.30,190.23 L51.80,188.04 L52.30,186.00 L52.80,184.74 L53.30,184.41 L53.80,186.60 L54.30,191.32 L54.80,196.81 L55.30,202.06 L55.80,206.08 L56.30,209.24 L56.80,211.22 L57.30,212.47 L57.80,213.13 L58.30,213.73 L58.80,214.04 L59.30,214.29 L59.80,214.51 L60.30,214.62 L60.80,214.77 L61.30,215.08 L61.80,215.12 L62.30,215.26 L62.80,215.42 L63.30,215.29 L63.80,215.44 L64.30,215.59 L64.80,215.67 L65.30,215.67 L65.80,215.84 L66.30,215.83 L66.80,215.76 L67.30,215.83 L67.80,216.01 L68.30,216.02 L68.80,215.87 L69.30,216.16 L69.80,216.14 L70.30,216.23 L70.80,216.12 L71.30,216.16 L71.80,216.12 L72.30,216.44 L72.80,216.25 L73.30,216.41 L73.80,216.26 L74.30,216.34 L74.80,216.22 L75.30,216.34 L75.80,216.47 L76.30,216.31 L76.80,216.52 L77.30,216.47 L77.80,216.38 L78.30,216.44 L78.80,216.46 L79.30,216.51 L79.80,216.49 L80.30,216.48 L80.80,216.53 L81.30,216.49 L81.80,216.48 L82.30,216.60 L82.80,216.68 L83.30,216.50 L83.80,216.64 L84.30,216.60 L84.80,216.59 L85.30,216.74 L85.80,216.65 L86.30,216.82 L86.80,216.65 L87.30,216.75 L87.80,216.71 L88.30,216.71 L88.80,216.89 L89.30,216.89 L89.80,217.02 L90.30,217.03 L90.80,217.01 L91.30,217.16 L91.80,217.23 L92.30,217.37 L92.80,217.29 L93.30,217.42 L93.80,217.35 L94.30,217.60 L94.80,217.53 L95.30,217.53 L95.80,217.74 L96.30,217.89 L96.80,217.75 L97.30,217.84 L97.80,217.93 L98.30,217.97 L98.80,218.15 L99.30,218.12 L99.80,218.19 L100.30,218.30 L100.80,218.17 L101.30,218.23 L101.80,218.09 L102.30,218.04 L102.80,217.97 L103.30,218.23 L103.80,218.03 L104.30,218.05 L104.80,218.00 L105.30,217.98 L105.80,217.95 L106.30,218.07 L106.80,217.80 L107.30,217.73 L107.80,217.75 L108.30,217.69 L108.80,217.83 L109.30,217.81 L109.80,217.64 L110.30,217.57 L110.80,217.63 L111.30,217.74 L111.80,217.37 L112.30,217.61 L112.80,217.45 L113.30,217.59 L113.80,217.40 L114.30,217.43 L114.80,217.30 L115.30,217.32 L115.80,217.48 L116.30,217.40 L116.80,217.27 L117.30,217.21 L117.80,217.10 L118.30,217.19 L118.80,217.20 L119.30,217.18 L119.80,217.17 L120.30,217.08 L120.80,217.15 L121.30,217.14 L121.80,217.24 L122.30,217.27 L122.80,217.10 L123.30,217.04 L123.80,217.08 L124.30,217.03 L124.80,217.01 L125.30,217.05 L125.80,216.96 L126.30,217.08 L126.80,217.01 L127.30,217.03 L127.80,216.98 L128.30,216.92 L128.80,216.90 L129.30,216.94 L129.80,216.90 L130.30,216.95 L130.80,216.92 L131.30,216.80 L131.80,216.91 L132.30,216.78 L132.80,216.83 L133.30,216.84 L133.80,216.69 L134.30,216.85 L134.80,216.84 L135.30,216.88 L135.80,216.94 L136.30,217.03 L136.80,217.06 L137.30,217.20 L137.80,217.26 L138.30,217.40 L138.80,217.38 L139.30,217.57 L139.80,217.65 L140.30,217.71 L140.80,217.77 L141.30,217.93 L141.80,217.83 L142.30,218.09 L142.80,218.13 L143.30,218.19 L143.80,218.25 L144.30,218.23 L144.80,218.32 L145.30,218.45 L145.80,218.49 L146.30,218.53 L146.80,218.45 L147.30,218.67 L147.80,218.78 L148.30,218.82 L148.80,218.82 L149.30,218.73 L149.80,218.99 L150.30,218.96 L150.80,218.83 L151.30,219.12 L151.80,219.03 L152.30,219.10 L152.80,219.21 L153.30,219.42 L153.80,219.33 L154.30,219.42 L154.80,219.58 L155.30,219.61 L155.80,219.51 L156.30,219.54 L156.80,219.50 L157.30,219.59 L157.80,219.72 L158.30,219.76 L158.80,219.78 L159.30,219.89 L159.80,219.79 L160.30,219.88 L160.80,219.99 L161.30,220.02 L161.80,220.10 L162.30,220.08 L162.80,220.07 L163.30,220.16 L163.80,220.09 L164.30,220.08 L164.80,220.30 L165.30,220.29 L165.80,220.36 L166.30,220.24 L166.80,220.39 L167.30,220.41 L167.80,220.43 L168.30,220.36 L168.80,220.55 L169.30,220.69 L169.80,220.69" fill="none" stroke="#2a48ff" stroke-width="1.3" stroke-linejoin="round" stroke-linecap="round" />
<path d="M17.30,233.69 L17.80,233.70 L18.30,233.72 L18.80,233.23 L19.30,233.46 L19.80,233.46 L20.30,233.38 L20.80,233.40 L21.30,233.21 L21.80,232.99 L22.30,232.86 L22.80,232.77 L23.30,232.45 L23.80,232.33 L24.30,232.25 L24.80,232.16 L25.30,231.67 L25.80,231.43 L26.30,231.17 L26.80,230.98 L27.30,230.46 L27.80,230.24 L28.30,229.50 L28.80,229.09 L29.30,228.53 L29.80,228.01 L30.30,227.33 L30.80,226.21 L31.30,225.37 L31.80,224.48 L32.30,223.19 L32.80,221.76 L33.30,220.58 L33.80,218.86 L34.30,217.04 L34.80,214.95 L35.30,213.06 L35.80,210.80 L36.30,208.93 L36.80,206.87 L37.30,205.44 L37.80,204.67 L38.30,204.28 L38.80,204.75 L39.30,205.50 L39.80,206.58 L40.30,208.21 L40.80,209.85 L41.30,211.76 L41.80,213.31 L42.30,214.97 L42.80,216.66 L43.30,218.10 L43.80,219.19 L44.30,219.86 L44.80,220.55 L45.30,221.14 L45.80,221.11 L46.30,220.92 L46.80,220.69 L47.30,220.07 L47.80,218.98 L48.30,217.67 L48.80,216.21 L49.30,214.75 L49.80,212.68 L50.30,210.73 L50.80,208.73 L51.30,206.82 L51.80,204.99 L52.30,203.77 L52.80,202.83 L53.30,202.79 L53.80,204.38 L54.30,208.43 L54.80,213.06 L55.30,217.78 L55.80,222.07 L56.30,225.52 L56.80,228.22 L57.30,229.79 L57.80,231.12 L58.30,232.06 L58.80,233.00 L59.30,233.23 L59.80,233.43 L60.30,233.79 L60.80,234.17 L61.30,234.08 L61.80,234.23 L62.30,234.57 L62.80,234.61 L63.30,234.75 L63.80,234.72 L64.30,235.11 L64.80,235.17 L65.30,235.12 L65.80,235.21 L66.30,234.96 L66.80,235.34 L67.30,235.31 L67.80,235.44 L68.30,235.52 L68.80,235.45 L69.30,235.34 L69.80,235.64 L70.30,235.55 L70.80,235.64 L71.30,235.65 L71.80,235.72 L72.30,235.52 L72.80,235.98 L73.30,235.89 L73.80,236.03 L74.30,236.17 L74.80,235.96 L75.30,235.77 L75.80,235.91 L76.30,235.90 L76.80,236.01 L77.30,236.10 L77.80,235.88 L78.30,236.18 L78.80,235.98 L79.30,236.22 L79.80,236.20 L80.30,236.19 L80.80,236.24 L81.30,236.21 L81.80,236.22 L82.30,236.11 L82.80,236.33 L83.30,236.57 L83.80,236.60 L84.30,236.54 L84.80,236.49 L85.30,236.34 L85.80,236.61 L86.30,236.44 L86.80,236.46 L87.30,236.45 L87.80,236.51 L88.30,236.48 L88.80,236.57 L89.30,236.50 L89.80,236.64 L90.30,237.01 L90.80,236.78 L91.30,236.80 L91.80,236.95 L92.30,237.02 L92.80,236.85 L93.30,237.00 L93.80,237.19 L94.30,237.16 L94.80,237.19 L95.30,237.41 L95.80,237.19 L96.30,237.33 L96.80,237.30 L97.30,237.59 L97.80,237.23 L98.30,237.43 L98.80,237.49 L99.30,237.68 L99.80,237.72 L100.30,237.81 L100.80,237.43 L101.30,237.67 L101.80,237.51 L102.30,237.43 L102.80,237.55 L103.30,237.34 L103.80,237.17 L104.30,237.34 L104.80,237.17 L105.30,237.24 L105.80,237.32 L106.30,237.28 L106.80,237.40 L107.30,237.15 L107.80,236.96 L108.30,237.02 L108.80,236.96 L109.30,236.89 L109.80,237.06 L110.30,236.89 L110.80,236.70 L111.30,236.99 L111.80,236.85 L112.30,236.88 L112.80,236.81 L113.30,236.84 L113.80,236.73 L114.30,236.84 L114.80,236.71 L115.30,236.67 L115.80,236.64 L116.30,236.38 L116.80,236.50 L117.30,236.45 L117.80,236.47 L118.30,236.25 L118.80,236.58 L119.30,236.38 L119.80,236.20 L120.30,236.11 L120.80,236.26 L121.30,236.26 L121.80,236.16 L122.30,236.23 L122.80,236.12 L123.30,236.24 L123.80,236.07 L124.30,236.12 L124.80,236.22 L125.30,236.39 L125.80,235.94 L126.30,235.98 L126.80,235.91 L127.30,236.08 L127.80,235.82 L128.30,235.88 L128.80,235.91 L129.30,235.77 L129.80,235.75 L130.30,235.78 L130.80,235.57 L131.30,235.62 L131.80,235.72 L132.30,235.76 L132.80,235.70 L133.30,235.48 L133.80,235.62 L134.30,235.74 L134.80,235.69 L135.30,235.69 L135.80,235.69 L136.30,235.97 L136.80,235.92 L137.30,235.95 L137.80,236.09 L138.30,236.46 L138.80,236.41 L139.30,236.62 L139.80,236.52 L140.30,236.79 L140.80,236.70 L141.30,236.86 L141.80,237.27 L142.30,237.16 L142.80,237.10 L143.30,237.23 L143.80,237.37 L144.30,237.56 L144.80,237.44 L145.30,237.38 L145.80,237.64 L146.30,237.76 L146.80,237.86 L147.30,238.09 L147.80,238.06 L148.30,238.21 L148.80,238.06 L149.30,238.39 L149.80,238.62 L150.30,238.55 L150.80,238.57 L151.30,238.65 L151.80,238.93 L152.30,238.69 L152.80,238.87 L153.30,239.03 L153.80,239.12 L154.30,239.04 L154.80,239.19 L155.30,239.17 L155.80,239.28 L156.30,239.31 L156.80,239.25 L157.30,239.44 L157.80,239.60 L158.30,239.44 L158.80,239.59 L159.30,239.75 L159.80,239.60 L160.30,239.81 L160.80,239.72 L161.30,240.04 L161.80,240.24 L162.30,240.27 L162.80,240.06 L163.30,240.23 L163.80,240.21 L164.30,240.27 L164.80,240.50 L165.30,240.22 L165.80,240.56 L166.30,240.48 L166.80,240.72 L167.30,240.63 L167.80,240.58 L168.30,240.76 L168.80,240.87 L169.30,240.84 L169.80,240.96" fill="none" stroke="#2a48ff" stroke-width="1.3" stroke-linejoin="round" stroke-linecap="round" />
<path d="M17.30,253.43 L17.80,252.99 L18.30,253.57 L18.80,253.43 L19.30,253.21 L19.80,253.08 L20.30,253.18 L20.80,252.73 L21.30,252.54 L21.80,252.52 L22.30,252.67 L22.80,251.94 L23.30,252.33 L23.80,251.74 L24.30,251.44 L24.80,251.73 L25.30,251.19 L25.80,250.66 L26.30,250.58 L26.80,250.54 L27.30,250.25 L27.80,249.50 L28.30,249.25 L28.80,248.83 L29.30,247.98 L29.80,247.59 L30.30,246.82 L30.80,245.93 L31.30,245.06 L31.80,244.19 L32.30,243.05 L32.80,241.64 L33.30,240.23 L33.80,238.95 L34.30,236.96 L34.80,235.16 L35.30,233.15 L35.80,230.89 L36.30,229.18 L36.80,226.63 L37.30,225.49 L37.80,224.28 L38.30,224.45 L38.80,224.70 L39.30,224.71 L39.80,226.16 L40.30,228.04 L40.80,229.76 L41.30,231.50 L41.80,233.03 L42.30,234.74 L42.80,236.23 L43.30,237.34 L43.80,238.66 L44.30,238.80 L44.80,240.08 L45.30,240.13 L45.80,240.74 L46.30,240.39 L46.80,239.90 L47.30,239.54 L47.80,238.33 L48.30,237.13 L48.80,235.50 L49.30,234.10 L49.80,232.28 L50.30,230.31 L50.80,227.93 L51.30,226.13 L51.80,224.07 L52.30,222.62 L52.80,221.89 L53.30,221.82 L53.80,223.20 L54.30,227.07 L54.80,231.88 L55.30,236.65 L55.80,240.52 L56.30,244.15 L56.80,246.18 L57.30,247.98 L57.80,248.77 L58.30,249.75 L58.80,250.24 L59.30,250.42 L59.80,251.22 L60.30,251.08 L60.80,251.57 L61.30,251.54 L61.80,251.32 L62.30,251.50 L62.80,251.78 L63.30,251.79 L63.80,251.87 L64.30,251.87 L64.80,251.61 L65.30,252.02 L65.80,251.63 L66.30,252.25 L66.80,252.06 L67.30,252.11 L67.80,252.25 L68.30,252.40 L68.80,252.06 L69.30,252.02 L69.80,252.20 L70.30,252.01 L70.80,252.27 L71.30,252.86 L71.80,252.30 L72.30,252.69 L72.80,252.26 L73.30,252.65 L73.80,252.53 L74.30,252.60 L74.80,252.75 L75.30,253.03 L75.80,252.70 L76.30,252.69 L76.80,252.46 L77.30,252.81 L77.80,252.64 L78.30,252.88 L78.80,252.70 L79.30,253.10 L79.80,252.29 L80.30,252.66 L80.80,252.93 L81.30,252.66 L81.80,252.57 L82.30,252.69 L82.80,252.45 L83.30,252.78 L83.80,253.29 L84.30,253.01 L84.80,252.52 L85.30,252.57 L85.80,252.68 L86.30,252.99 L86.80,252.59 L87.30,252.62 L87.80,252.96 L88.30,252.98 L88.80,252.73 L89.30,252.60 L89.80,252.53 L90.30,252.74 L90.80,252.43 L91.30,253.11 L91.80,252.84 L92.30,253.11 L92.80,253.44 L93.30,253.31 L93.80,252.83 L94.30,253.30 L94.80,253.39 L95.30,252.99 L95.80,252.97 L96.30,253.18 L96.80,252.88 L97.30,253.58 L97.80,252.75 L98.30,253.06 L98.80,253.27 L99.30,253.31 L99.80,253.42 L100.30,253.45 L100.80,253.35 L101.30,253.65 L101.80,252.93 L102.30,253.40 L102.80,253.24 L103.30,253.43 L103.80,253.45 L104.30,253.21 L104.80,253.27 L105.30,253.58 L105.80,253.49 L106.30,253.26 L106.80,253.86 L107.30,253.92 L107.80,253.09 L108.30,253.48 L108.80,253.97 L109.30,253.59 L109.80,253.47 L110.30,253.37 L110.80,253.30 L111.30,253.37 L111.80,253.30 L112.30,253.58 L112.80,253.33 L113.30,253.32 L113.80,253.16 L114.30,253.41 L114.80,253.23 L115.30,253.38 L115.80,253.65 L116.30,253.50 L116.80,253.53 L117.30,253.50 L117.80,253.44 L118.30,253.40 L118.80,253.35 L119.30,253.57 L119.80,253.16 L120.30,253.68 L120.80,253.38 L121.30,253.20 L121.80,253.25 L122.30,253.19 L122.80,253.37 L123.30,253.16 L123.80,253.56 L124.30,253.13 L124.80,252.79 L125.30,253.12 L125.80,252.83 L126.30,253.25 L126.80,253.48 L127.30,253.38 L127.80,252.93 L128.30,253.05 L128.80,253.60 L129.30,253.27 L129.80,253.19 L130.30,253.41 L130.80,253.70 L131.30,253.44 L131.80,253.17 L132.30,253.21 L132.80,253.26 L133.30,252.97 L133.80,252.86 L134.30,253.10 L134.80,252.87 L135.30,253.06 L135.80,253.09 L136.30,253.59 L136.80,252.88 L137.30,253.04 L137.80,253.03 L138.30,253.16 L138.80,253.30 L139.30,252.96 L139.80,252.88 L140.30,252.70 L140.80,252.86 L141.30,253.18 L141.80,253.07 L142.30,252.83 L142.80,252.98 L143.30,253.08 L143.80,253.20 L144.30,252.97 L144.80,253.05 L145.30,252.72 L145.80,252.87 L146.30,253.49 L146.80,252.67 L147.30,253.08 L147.80,253.22 L148.30,253.10 L148.80,253.01 L149.30,253.19 L149.80,253.21 L150.30,253.20 L150.80,252.82 L151.30,253.21 L151.80,253.06 L152.30,253.14 L152.80,253.32 L153.30,253.42 L153.80,253.49 L154.30,253.19 L154.80,253.51 L155.30,253.58 L155.80,253.58 L156.30,253.64 L156.80,253.32 L157.30,253.32 L157.80,253.55 L158.30,253.08 L158.80,253.43 L159.30,253.28 L159.80,253.33 L160.30,253.04 L160.80,253.23 L161.30,253.43 L161.80,253.64 L162.30,253.68 L162.80,253.45 L163.30,253.44 L163.80,253.31 L164.30,253.59 L164.80,253.45 L165.30,253.65 L165.80,253.91 L166.30,253.53 L166.80,253.22 L167.30,253.37 L167.80,253.25 L168.30,253.31 L168.80,253.87 L169.30,253.65 L169.80,253.27" fill="none" stroke="#ff2852" stroke-width="1.3" stroke-linejoin="round" stroke-linecap="round" />
<text transform="translate(84.5,178.6) scale(1,1.1)" font-size="6.9" fill="#1e1e1e" stroke="#1e1e1e" stroke-width="0.36" text-anchor="middle" font-family="Liberation Sans, sans-serif" font-weight="bold" >0</text>
<text transform="translate(84.5,197.0) scale(1,1.1)" font-size="6.9" fill="#2a48ff" stroke="#2a48ff" stroke-width="0.36" text-anchor="middle" font-family="Liberation Sans, sans-serif" font-weight="bold" >4</text>
<text transform="translate(84.5,215.0) scale(1,1.1)" font-size="6.9" fill="#2a48ff" stroke="#2a48ff" stroke-width="0.36" text-anchor="middle" font-family="Liberation Sans, sans-serif" font-weight="bold" >8</text>
<text transform="translate(84.5,235.0) scale(1,1.1)" font-size="6.9" fill="#2a48ff" stroke="#2a48ff" stroke-width="0.36" text-anchor="middle" font-family="Liberation Sans, sans-serif" font-weight="bold" >12</text>
<text transform="translate(84.5,250.6) scale(1,1.1)" font-size="6.9" fill="#ff2852" stroke="#ff2852" stroke-width="0.36" text-anchor="middle" font-family="Liberation Sans, sans-serif" font-weight="bold" >0-95</text>
<line x1="206.4" y1="142.5" x2="361.5" y2="142.5" stroke="#1e1e1e" stroke-width="1.25" />
<line x1="206.4" y1="256.0" x2="361.5" y2="256.0" stroke="#1e1e1e" stroke-width="1.25" />
<line x1="206.4" y1="141.9" x2="206.4" y2="256.6" stroke="#ff2852" stroke-width="1.25" />
<line x1="361.5" y1="141.9" x2="361.5" y2="256.6" stroke="#2a48ff" stroke-width="1.25" />
<line x1="206.4" y1="255.9" x2="204.4" y2="255.9" stroke="#ff2852" stroke-width="1.0" />
<line x1="206.4" y1="245.12" x2="204.8" y2="245.12" stroke="#ff2852" stroke-width="1.0" />
<line x1="206.4" y1="234.34" x2="204.4" y2="234.34" stroke="#ff2852" stroke-width="1.0" />
<line x1="206.4" y1="223.56" x2="204.8" y2="223.56" stroke="#ff2852" stroke-width="1.0" />
<line x1="206.4" y1="212.78" x2="204.4" y2="212.78" stroke="#ff2852" stroke-width="1.0" />
<line x1="206.4" y1="202.0" x2="204.8" y2="202.0" stroke="#ff2852" stroke-width="1.0" />
<line x1="206.4" y1="191.22" x2="204.4" y2="191.22" stroke="#ff2852" stroke-width="1.0" />
<line x1="206.4" y1="180.44" x2="204.8" y2="180.44" stroke="#ff2852" stroke-width="1.0" />
<line x1="206.4" y1="169.66" x2="204.4" y2="169.66" stroke="#ff2852" stroke-width="1.0" />
<line x1="206.4" y1="158.88" x2="204.8" y2="158.88" stroke="#ff2852" stroke-width="1.0" />
<line x1="206.4" y1="148.10000000000002" x2="204.4" y2="148.10000000000002" stroke="#ff2852" stroke-width="1.0" />
<text transform="translate(203.2,258.5) scale(1,1.1)" font-size="7.3" fill="#ff2852" stroke="#ff2852" stroke-width="0.36" text-anchor="end" font-family="Liberation Sans, sans-serif" font-weight="bold" >0.0</text>
<text transform="translate(203.2,236.94) scale(1,1.1)" font-size="7.3" fill="#ff2852" stroke="#ff2852" stroke-width="0.36" text-anchor="end" font-family="Liberation Sans, sans-serif" font-weight="bold" >0.4</text>
<text transform="translate(203.2,215.38) scale(1,1.1)" font-size="7.3" fill="#ff2852" stroke="#ff2852" stroke-width="0.36" text-anchor="end" font-family="Liberation Sans, sans-serif" font-weight="bold" >0.8</text>
<text transform="translate(203.2,193.82000000000002) scale(1,1.1)" font-size="7.3" fill="#ff2852" stroke="#ff2852" stroke-width="0.36" text-anchor="end" font-family="Liberation Sans, sans-serif" font-weight="bold" >1.2</text>
<text transform="translate(203.2,172.26) scale(1,1.1)" font-size="7.3" fill="#ff2852" stroke="#ff2852" stroke-width="0.36" text-anchor="end" font-family="Liberation Sans, sans-serif" font-weight="bold" >1.6</text>
<text transform="translate(203.2,150.70000000000002) scale(1,1.1)" font-size="7.3" fill="#ff2852" stroke="#ff2852" stroke-width="0.36" text-anchor="end" font-family="Liberation Sans, sans-serif" font-weight="bold" >2.0</text>
<line x1="361.5" y1="256.3" x2="363.5" y2="256.3" stroke="#2a48ff" stroke-width="1.0" />
<line x1="361.5" y1="239.95" x2="363.1" y2="239.95" stroke="#2a48ff" stroke-width="1.0" />
<line x1="361.5" y1="223.59999999999997" x2="363.5" y2="223.59999999999997" stroke="#2a48ff" stroke-width="1.0" />
<line x1="361.5" y1="207.24999999999994" x2="363.1" y2="207.24999999999994" stroke="#2a48ff" stroke-width="1.0" />
<line x1="361.5" y1="190.89999999999992" x2="363.5" y2="190.89999999999992" stroke="#2a48ff" stroke-width="1.0" />
<line x1="361.5" y1="174.5499999999999" x2="363.1" y2="174.5499999999999" stroke="#2a48ff" stroke-width="1.0" />
<line x1="361.5" y1="158.1999999999999" x2="363.5" y2="158.1999999999999" stroke="#2a48ff" stroke-width="1.0" />
<text transform="translate(364.0,258.90000000000003) scale(1,1.1)" font-size="7.3" fill="#2a48ff" stroke="#2a48ff" stroke-width="0.36" text-anchor="start" font-family="Liberation Sans, sans-serif" font-weight="bold" >1.36</text>
<text transform="translate(364.0,226.20000000000033) scale(1,1.1)" font-size="7.3" fill="#2a48ff" stroke="#2a48ff" stroke-width="0.36" text-anchor="start" font-family="Liberation Sans, sans-serif" font-weight="bold" >1.38</text>
<text transform="translate(364.0,193.5000000000003) scale(1,1.1)" font-size="7.3" fill="#2a48ff" stroke="#2a48ff" stroke-width="0.36" text-anchor="start" font-family="Liberation Sans, sans-serif" font-weight="bold" >1.40</text>
<text transform="translate(364.0,160.80000000000027) scale(1,1.1)" font-size="7.3" fill="#2a48ff" stroke="#2a48ff" stroke-width="0.36" text-anchor="start" font-family="Liberation Sans, sans-serif" font-weight="bold" >1.42</text>
<line x1="211.5" y1="256.0" x2="211.5" y2="258.0" stroke="#1e1e1e" stroke-width="1.0" />
<line x1="229.66" y1="256.0" x2="229.66" y2="257.5" stroke="#1e1e1e" stroke-width="0.9" />
<line x1="247.82" y1="256.0" x2="247.82" y2="258.0" stroke="#1e1e1e" stroke-width="1.0" />
<line x1="265.98" y1="256.0" x2="265.98" y2="257.5" stroke="#1e1e1e" stroke-width="0.9" />
<line x1="284.14" y1="256.0" x2="284.14" y2="258.0" stroke="#1e1e1e" stroke-width="1.0" />
<line x1="302.3" y1="256.0" x2="302.3" y2="257.5" stroke="#1e1e1e" stroke-width="0.9" />
<line x1="320.46000000000004" y1="256.0" x2="320.46000000000004" y2="258.0" stroke="#1e1e1e" stroke-width="1.0" />
<line x1="338.62" y1="256.0" x2="338.62" y2="257.5" stroke="#1e1e1e" stroke-width="0.9" />
<line x1="356.78" y1="256.0" x2="356.78" y2="258.0" stroke="#1e1e1e" stroke-width="1.0" />
<text transform="translate(211.7,266.2) scale(1,1.1)" font-size="7.7" fill="#1e1e1e" stroke="#1e1e1e" stroke-width="0.36" text-anchor="middle" font-family="Liberation Sans, sans-serif" font-weight="bold" >0</text>
<text transform="translate(248.01999999999998,266.2) scale(1,1.1)" font-size="7.7" fill="#1e1e1e" stroke="#1e1e1e" stroke-width="0.36" text-anchor="middle" font-family="Liberation Sans, sans-serif" font-weight="bold" >4</text>
<text transform="translate(284.34,266.2) scale(1,1.1)" font-size="7.7" fill="#1e1e1e" stroke="#1e1e1e" stroke-width="0.36" text-anchor="middle" font-family="Liberation Sans, sans-serif" font-weight="bold" >8</text>
<text transform="translate(320.66,266.2) scale(1,1.1)" font-size="7.7" fill="#1e1e1e" stroke="#1e1e1e" stroke-width="0.36" text-anchor="middle" font-family="Liberation Sans, sans-serif" font-weight="bold" >12</text>
<text transform="translate(355.78,266.2) scale(1,1.1)" font-size="7.7" fill="#1e1e1e" stroke="#1e1e1e" stroke-width="0.36" text-anchor="middle" font-family="Liberation Sans, sans-serif" font-weight="bold" >0-95</text>
<text transform="translate(188.5,139.2) scale(1,1.1)" font-size="15.5" fill="#1e1e1e" stroke="#1e1e1e" stroke-width="0.55" text-anchor="start" font-family="Liberation Sans, sans-serif" font-weight="bold" >d</text>
<text transform="translate(259.8,276.3) scale(1,1.1)" font-size="9.1" fill="#1e1e1e" stroke="#1e1e1e" stroke-width="0.36" font-family="Liberation Sans, sans-serif" font-weight="bold">GO Sample</text>
<text transform="translate(187.5,272.5) rotate(-90) scale(1,1.1)" font-size="8.1" fill="#ff2852" stroke="#ff2852" stroke-width="0.36" font-family="Liberation Sans, sans-serif" font-weight="bold">Oxygenated Carbon / Intact Carbon</text>
<text transform="translate(383.6,190.6) rotate(90) scale(1,1.1)" font-size="8.0" fill="#2a48ff" stroke="#2a48ff" stroke-width="0.36" font-family="Liberation Sans, sans-serif" font-weight="bold">L<tspan font-size="5.5" dy="2">o</tspan><tspan dy="-2"> (nm)</tspan></text>
<path d="M211.50,194.00 L247.82,187.50 L284.14,164.60 L320.46,146.60" fill="none" stroke="#ff2852" stroke-width="1.0"/>
<line x1="320.46000000000004" y1="146.6" x2="356.78" y2="191.2" stroke="#ff2852" stroke-width="1.25" stroke-dasharray="3.4,2.3"/>
<circle cx="211.50" cy="194.00" r="1.45" fill="#ff2852"/>
<circle cx="247.82" cy="187.50" r="1.45" fill="#ff2852"/>
<circle cx="284.14" cy="164.60" r="1.45" fill="#ff2852"/>
<circle cx="320.46" cy="146.60" r="1.45" fill="#ff2852"/>
<circle cx="356.78" cy="191.20" r="1.45" fill="#ff2852"/>
<path d="M211.50,148.90 L247.82,176.40 L284.14,207.10 L320.46,217.40" fill="none" stroke="#2a48ff" stroke-width="1.0"/>
<line x1="320.46000000000004" y1="217.4" x2="356.78" y2="249.6" stroke="#2a48ff" stroke-width="1.25" stroke-dasharray="3.4,2.3"/>
<circle cx="211.50" cy="148.90" r="1.45" fill="#2a48ff"/>
<circle cx="247.82" cy="176.40" r="1.45" fill="#2a48ff"/>
<circle cx="284.14" cy="207.10" r="1.45" fill="#2a48ff"/>
<circle cx="320.46" cy="217.40" r="1.45" fill="#2a48ff"/>
<circle cx="356.78" cy="249.60" r="1.45" fill="#2a48ff"/>
</svg>
</body></html>
